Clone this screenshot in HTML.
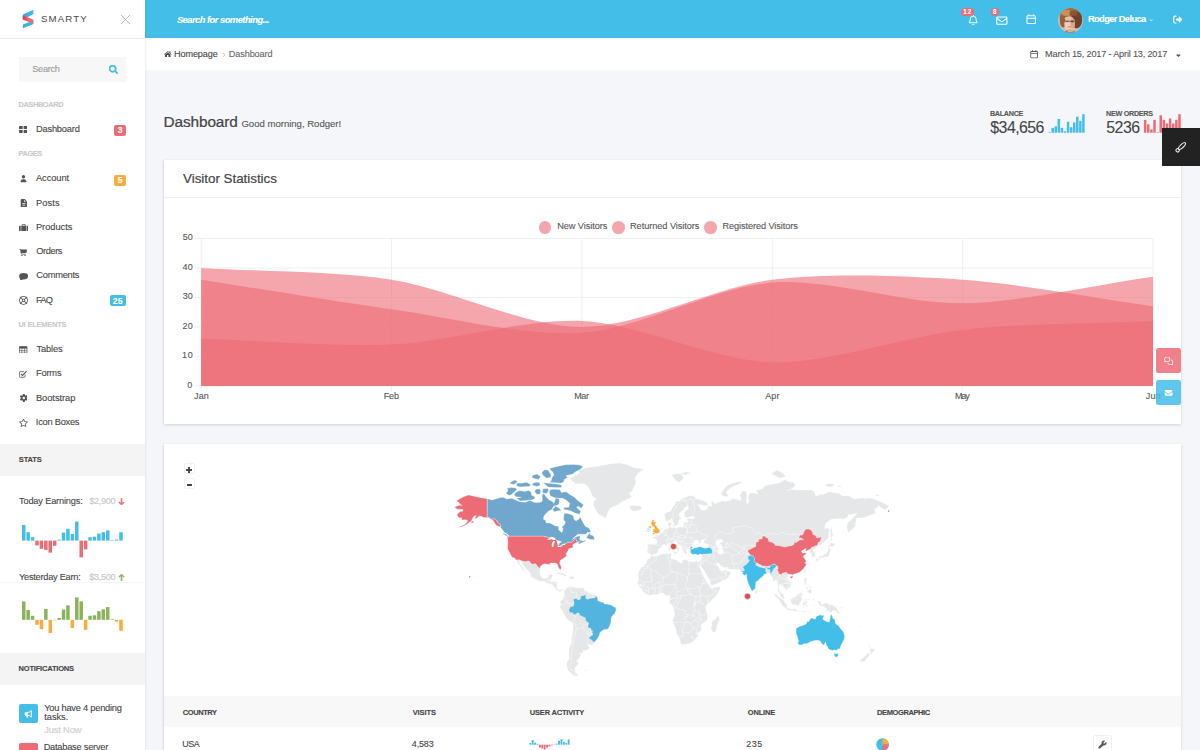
<!DOCTYPE html><html><head><meta charset="utf-8"><title>Smarty Dashboard</title><style>
*{box-sizing:border-box;margin:0;padding:0}
html,body{width:1200px;height:750px;overflow:hidden;background:#f5f6fa;font-family:"Liberation Sans",sans-serif;}
#root{position:relative;width:1200px;height:750px;overflow:hidden}
.t{position:absolute;white-space:nowrap;line-height:1;-webkit-text-stroke:0.1px currentColor}
.ic{position:absolute;display:block}
.abs{position:absolute}
</style></head><body><div id="root"><div class="abs" style="left:145px;top:0px;width:1055.00px;height:38.00px;background:#43bee9;"></div><div class="t" style="left:176.89px;top:14.84px;font-size:9.4px;color:#fff;letter-spacing:-0.534px;font-weight:bold;font-style:italic;">Search for something...</div><svg class="ic" style="left:967.70px;top:15.00px;width:10.40px;height:10.20px;fill:#fff;" viewBox="0 0 448 512" preserveAspectRatio="xMidYMid meet"><path d="M224 0c-13.3 0-24 10.7-24 24v9.7C118.6 45.3 56 115.4 56 200v14.5c0 37.7-10 74.7-29 107.3L5.1 359.2C1.8 365 0 371.5 0 378.2 0 399.1 16.9 416 37.8 416h372.4c20.9 0 37.8-16.9 37.8-37.8 0-6.7-1.8-13.3-5.1-19L421 321.7c-19-32.6-29-69.6-29-107.3v-14.5c0-84.6-62.6-154.7-144-166.3v-9.7c0-13.3-10.7-24-24-24zm168.4 368H55.5l12.9-22.1C91.7 306 104 260.6 104 214.5V200c0-66.3 53.7-120 120-120s120 53.7 120 120v14.5c0 46.2 12.3 91.5 35.5 131.4zm-236.3 96c9.9 28 36.6 48 67.9 48s58-20 67.9-48z"/></svg><div class="abs" style="left:961px;top:8.1px;width:12.70px;height:7.60px;background:#ed6b75;border-radius:3.7px"></div><div class="t" style="left:963.20px;top:9.18px;font-size:6.4px;color:#fff;letter-spacing:0.930px;font-weight:bold;">12</div><svg class="ic" style="left:996.30px;top:14.50px;width:11.70px;height:11.20px;fill:#fff;" viewBox="0 0 512 512" preserveAspectRatio="xMidYMid meet"><path d="M61.4 64C27.5 64 0 91.5 0 125.4c0 .9 0 1.7.1 2.6H0v256c0 35.3 28.7 64 64 64h384c35.3 0 64-28.7 64-64V128h-.1c0-.9.1-1.7.1-2.6 0-33.9-27.5-61.4-61.4-61.4zM464 192.3V384c0 8.8-7.2 16-16 16H64c-8.8 0-16-7.2-16-16V192.3l154.8 117.4c31.4 23.9 74.9 23.9 106.4 0zM48 125.4c0-7.4 6-13.4 13.4-13.4h389.2c7.4 0 13.4 6 13.4 13.4 0 4.2-2 8.2-5.3 10.7L280.2 271.5c-14.3 10.8-34.1 10.8-48.4 0L53.3 136.1c-3.3-2.5-5.3-6.5-5.3-10.7"/></svg><div class="abs" style="left:990.8px;top:8.1px;width:8.20px;height:7.60px;background:#ed6b75;border-radius:3.8px"></div><div class="t" style="left:993.00px;top:9.18px;font-size:6.4px;color:#fff;letter-spacing:0.000px;font-weight:bold;">8</div><svg class="ic" style="left:1025.60px;top:14.20px;width:10.40px;height:10.80px;fill:#fff;" viewBox="0 0 448 512" preserveAspectRatio="xMidYMid meet"><path d="M120 0c13.3 0 24 10.7 24 24v40h160V24c0-13.3 10.7-24 24-24s24 10.7 24 24v40h32c35.3 0 64 28.7 64 64v288c0 35.3-28.7 64-64 64H64c-35.3 0-64-28.7-64-64V128c0-35.3 28.7-64 64-64h32V24c0-13.3 10.7-24 24-24m0 112H64c-8.8 0-16 7.2-16 16v48h352v-48c0-8.8-7.2-16-16-16zM48 224v192c0 8.8 7.2 16 16 16h320c8.8 0 16-7.2 16-16V224z"/></svg><svg class="abs" style="left:1057.8px;top:7.7px" width="25" height="25" viewBox="0 0 25 25"><defs><clipPath id="av"><circle cx="12.5" cy="12.5" r="12.4"/></clipPath><filter id="avb" x="-20%" y="-20%" width="140%" height="140%"><feGaussianBlur stdDeviation="0.55"/></filter></defs><g clip-path="url(#av)"><g filter="url(#avb)"><rect x="-3" y="-3" width="31" height="31" fill="#cdbfb8"/><ellipse cx="12.8" cy="9.3" rx="11.2" ry="9.6" fill="#a8693a"/><ellipse cx="18.6" cy="12" rx="5.6" ry="8.5" fill="#70432a"/><ellipse cx="5.2" cy="13" rx="3.4" ry="6.5" fill="#9a5f36"/><ellipse cx="8.5" cy="4.8" rx="5.5" ry="3" fill="#c99158"/><ellipse cx="15.5" cy="5.2" rx="4" ry="2.6" fill="#8a5430"/><ellipse cx="11.6" cy="16" rx="5.3" ry="7.6" fill="#efcdb8"/><ellipse cx="10.8" cy="10.6" rx="4" ry="2.2" fill="#e6bfa6"/><ellipse cx="14.8" cy="15.5" rx="2.2" ry="5" fill="#d6a68e"/><path d="M6.4 13.1 L16.8 13.3" stroke="#4a3630" stroke-width="0.85" fill="none" opacity=".8"/><ellipse cx="8.9" cy="13.4" rx="1.9" ry="0.9" fill="#6a4a40" opacity=".55"/><ellipse cx="14.2" cy="13.5" rx="1.9" ry="0.9" fill="#4a342e" opacity=".6"/><ellipse cx="11.5" cy="18.9" rx="2" ry="0.7" fill="#c48f7d"/><ellipse cx="12" cy="25.3" rx="6.2" ry="3.6" fill="#b9805c"/><ellipse cx="12.5" cy="22.6" rx="3" ry="1.6" fill="#dcae92"/></g></g></svg><div class="t" style="left:1087.89px;top:15.03px;font-size:9.3px;color:#fff;letter-spacing:-0.607px;font-weight:bold;">Rodger Deluca</div><svg class="ic" style="left:1149.00px;top:18.30px;width:4.40px;height:4.00px;fill:#fff;" viewBox="0 0 384 512" preserveAspectRatio="xMidYMid meet"><path d="M169.4 374.6c12.5 12.5 32.8 12.5 45.3 0l160-160c12.5-12.5 12.5-32.8 0-45.3s-32.8-12.5-45.3 0L192 306.7 54.6 169.4c-12.5-12.5-32.8-12.5-45.3 0s-12.5 32.8 0 45.3l160 160z"/></svg><svg class="ic" style="left:1172.50px;top:15.20px;width:9.50px;height:9.10px;fill:#fff;" viewBox="0 0 512 512" preserveAspectRatio="xMidYMid meet"><path d="M505 273c9.4-9.4 9.4-24.6 0-33.9L361 95c-6.9-6.9-17.2-8.9-26.2-5.2S320 102.3 320 112v80H208c-26.5 0-48 21.5-48 48v32c0 26.5 21.5 48 48 48h112v80c0 9.7 5.8 18.5 14.8 22.2s19.3 1.7 26.2-5.2zM160 96c17.7 0 32-14.3 32-32s-14.3-32-32-32H96C43 32 0 75 0 128v256c0 53 43 96 96 96h64c17.7 0 32-14.3 32-32s-14.3-32-32-32H96c-17.7 0-32-14.3-32-32V128c0-17.7 14.3-32 32-32z"/></svg><div class="abs" style="left:145px;top:38px;width:1055.00px;height:32.00px;background:#fff;"></div><svg class="ic" style="left:164.2px;top:51.3px;width:7.5px;height:6.2px" viewBox="0 0 7.5 6.2" fill="#444" stroke="none"><path d="M3.75 0 L7.5 3.15 L7.1 3.65 L3.75 0.85 L0.4 3.65 L0 3.15 Z"/><path d="M1 3.7 L3.75 1.45 L6.5 3.7 V6.2 H4.5 V4.1 H3 V6.2 H1 Z"/><rect x="5.5" y="0.3" width="0.9" height="1.8"/></svg><div class="t" style="left:173.95px;top:49.50px;font-size:9.1px;color:#444;letter-spacing:-0.082px;">Homepage</div><svg class="ic" style="left:222.30px;top:51.80px;width:3.70px;height:5.80px;fill:#c4c4c4;" viewBox="0 0 256 512" preserveAspectRatio="xMidYMid meet"><path d="M247.1 233.4c12.5 12.5 12.5 32.8 0 45.3l-160 160c-12.5 12.5-32.8 12.5-45.3 0s-12.5-32.8 0-45.3L179.2 256 41.9 118.6c-12.5-12.5-12.5-32.8 0-45.3s32.8-12.5 45.3 0l160 160z"/></svg><div class="t" style="left:228.75px;top:49.50px;font-size:9.1px;color:#666;letter-spacing:-0.086px;">Dashboard</div><svg class="ic" style="left:1030.20px;top:50.00px;width:8.30px;height:8.75px;fill:#555;" viewBox="0 0 448 512" preserveAspectRatio="xMidYMid meet"><path d="M120 0c13.3 0 24 10.7 24 24v40h160V24c0-13.3 10.7-24 24-24s24 10.7 24 24v40h32c35.3 0 64 28.7 64 64v288c0 35.3-28.7 64-64 64H64c-35.3 0-64-28.7-64-64V128c0-35.3 28.7-64 64-64h32V24c0-13.3 10.7-24 24-24m0 112H64c-8.8 0-16 7.2-16 16v48h352v-48c0-8.8-7.2-16-16-16zM48 224v192c0 8.8 7.2 16 16 16h320c8.8 0 16-7.2 16-16V224z"/></svg><div class="t" style="left:1045.05px;top:49.71px;font-size:9.2px;color:#555;letter-spacing:-0.198px;">March 15, 2017 - April 13, 2017</div><svg class="ic" style="left:1176.40px;top:51.60px;width:4.80px;height:6.60px;fill:#555;" viewBox="0 0 320 512" preserveAspectRatio="xMidYMid meet"><path d="M140.3 376.8c12.6 10.2 31.1 9.5 42.8-2.2l128-128c9.2-9.2 11.9-22.9 6.9-34.9S301.4 192 288.5 192h-256c-12.9 0-24.6 7.8-29.6 19.8s-2.2 25.7 7 34.8l128 128z"/></svg><div class="t" style="left:163.54px;top:114.26px;font-size:15.4px;color:#444;letter-spacing:-0.124px;-webkit-text-stroke:0.22px currentColor">Dashboard</div><div class="t" style="left:241.42px;top:119.17px;font-size:9.6px;color:#555;letter-spacing:-0.023px;">Good morning, Rodger!</div><div class="t" style="left:989.97px;top:110.41px;font-size:7.2px;color:#555;letter-spacing:-0.299px;font-weight:bold;">BALANCE</div><div class="t" style="left:990.34px;top:119.54px;font-size:15.9px;color:#444;letter-spacing:-0.556px;">$34,656</div><div class="t" style="left:1106.02px;top:110.41px;font-size:7.2px;color:#555;letter-spacing:-0.272px;font-weight:bold;">NEW ORDERS</div><div class="t" style="left:1106.26px;top:119.54px;font-size:15.9px;color:#444;letter-spacing:-0.481px;">5236</div><svg class="abs" style="left:0;top:0" width="1200" height="750"><rect x="1048.40" y="132.10" width="2.5" height="0.60" fill="#43bee9"/><rect x="1051.47" y="127.90" width="2.5" height="4.80" fill="#43bee9"/><rect x="1054.54" y="126.30" width="2.5" height="6.40" fill="#43bee9"/><rect x="1057.61" y="118.90" width="2.5" height="13.80" fill="#43bee9"/><rect x="1060.68" y="127.90" width="2.5" height="4.80" fill="#43bee9"/><rect x="1063.75" y="131.20" width="2.5" height="1.50" fill="#43bee9"/><rect x="1066.82" y="121.70" width="2.5" height="11.00" fill="#43bee9"/><rect x="1069.89" y="127.20" width="2.5" height="5.50" fill="#43bee9"/><rect x="1072.96" y="122.40" width="2.5" height="10.30" fill="#43bee9"/><rect x="1076.03" y="116.60" width="2.5" height="16.10" fill="#43bee9"/><rect x="1079.10" y="120.80" width="2.5" height="11.90" fill="#43bee9"/><rect x="1082.17" y="114.20" width="2.5" height="18.50" fill="#43bee9"/><rect x="1143.90" y="119.90" width="2.5" height="12.80" fill="#ed6b75"/><rect x="1147.02" y="124.30" width="2.5" height="8.40" fill="#ed6b75"/><rect x="1150.14" y="129.40" width="2.5" height="3.30" fill="#ed6b75"/><rect x="1153.26" y="119.90" width="2.5" height="12.80" fill="#ed6b75"/><rect x="1156.38" y="132.20" width="2.5" height="0.50" fill="#ed6b75"/><rect x="1159.50" y="115.30" width="2.5" height="17.40" fill="#ed6b75"/><rect x="1162.62" y="119.90" width="2.5" height="12.80" fill="#ed6b75"/><rect x="1165.74" y="123.50" width="2.5" height="9.20" fill="#ed6b75"/><rect x="1168.86" y="118.40" width="2.5" height="14.30" fill="#ed6b75"/><rect x="1171.98" y="123.50" width="2.5" height="9.20" fill="#ed6b75"/><rect x="1175.10" y="119.90" width="2.5" height="12.80" fill="#ed6b75"/><rect x="1178.22" y="114.20" width="2.5" height="18.50" fill="#ed6b75"/></svg><div class="abs" style="left:0px;top:0px;width:145.00px;height:750.00px;background:#fff;box-shadow:1px 0 2px rgba(0,0,0,.07)"></div><div class="abs" style="left:0px;top:38px;width:145.00px;height:1.00px;background:#e9e9e9;"></div><svg class="abs" style="left:21px;top:8px" width="14" height="22" viewBox="0 0 14 22"><defs><linearGradient id="lg1" x1="0" y1="0" x2="1" y2="0"><stop offset="0" stop-color="#c4434f"/><stop offset="0.6" stop-color="#ee6c77"/><stop offset="1" stop-color="#f0707a"/></linearGradient><linearGradient id="lg2" x1="0" y1="0" x2="1" y2="0"><stop offset="0" stop-color="#35aee0"/><stop offset="1" stop-color="#3fbbe8"/></linearGradient></defs><path d="M12.4 1.7 L12.4 6.1 L4.5 10.2 L1.9 9.2 L1.9 7.4 Q2 6.6 2.9 6.1 Z" fill="url(#lg2)"/><path d="M12.4 12.6 L12.4 15.4 Q12.3 16.1 11.5 16.5 L1.9 20.3 L1.9 16.4 Z" fill="url(#lg2)"/><path d="M1.6 7.3 L11.2 11.1 Q12.4 11.6 12.4 12.8 L12.4 15.8 L2.8 12.1 Q1.6 11.6 1.6 10.4 Z" fill="url(#lg1)"/></svg><div class="t" style="left:41.06px;top:13.89px;font-size:9.7px;color:#484848;letter-spacing:1.081px;-webkit-text-stroke:0">SMARTY</div><svg class="abs" style="left:120px;top:14px" width="11" height="11" viewBox="0 0 11 11"><path d="M1 1L10 10M10 1L1 10" stroke="#aaa" stroke-width="0.8" fill="none"/></svg><div class="abs" style="left:19px;top:57px;width:107.00px;height:25.00px;background:#f7f7f7;"></div><div class="t" style="left:32.19px;top:65.11px;font-size:9.2px;color:#999;letter-spacing:-0.269px;">Search</div><svg class="ic" style="left:109.00px;top:65.30px;width:9.00px;height:9.00px;fill:#43bee9;stroke:#43bee9;stroke-width:45" viewBox="0 0 512 512" preserveAspectRatio="xMidYMid meet"><path d="M416 208c0 45.9-14.9 88.3-40 122.7l126.6 126.7c12.5 12.5 12.5 32.8 0 45.3s-32.8 12.5-45.3 0L330.7 376c-34.4 25.1-76.8 40-122.7 40C93.1 416 0 322.9 0 208S93.1 0 208 0s208 93.1 208 208M208 352a144 144 0 1 0 0-288 144 144 0 1 0 0 288"/></svg><div class="t" style="left:18.41px;top:101.44px;font-size:7.4px;color:#c9c9c9;letter-spacing:-0.364px;font-weight:bold;">DASHBOARD</div><div class="t" style="left:18.41px;top:150.34px;font-size:7.4px;color:#c9c9c9;letter-spacing:-0.371px;font-weight:bold;">PAGES</div><div class="t" style="left:18.46px;top:321.24px;font-size:7.4px;color:#c9c9c9;letter-spacing:-0.172px;font-weight:bold;">UI ELEMENTS</div><svg class="ic" style="left:19px;top:126.3px;width:8.3px;height:7px" viewBox="0 0 8.3 7" fill="#555" stroke="none"><rect x="0" y="0" width="3.7" height="3.1" rx="0.4"/><rect x="0" y="3.9" width="3.7" height="3.1" rx="0.4"/><rect x="4.6" y="0" width="3.7" height="3.1" rx="0.4"/><rect x="4.6" y="3.9" width="3.7" height="3.1" rx="0.4"/></svg><div class="t" style="left:35.94px;top:125.13px;font-size:9.3px;color:#444;letter-spacing:-0.192px;">Dashboard</div><svg class="ic" style="left:20.00px;top:175.40px;width:7.00px;height:7.30px;fill:#555;" viewBox="0 0 448 512" preserveAspectRatio="xMidYMid meet"><path d="M224 248a120 120 0 1 0 0-240 120 120 0 1 0 0 240m-29.7 56C95.8 304 16 383.8 16 482.3c0 16.4 13.3 29.7 29.7 29.7h356.6c16.4 0 29.7-13.3 29.7-29.7 0-98.5-79.8-178.3-178.3-178.3z"/></svg><div class="t" style="left:35.98px;top:174.33px;font-size:9.3px;color:#444;letter-spacing:-0.086px;">Account</div><svg class="ic" style="left:19.50px;top:199.20px;width:7.70px;height:8.30px;fill:#555;" viewBox="0 0 384 512" preserveAspectRatio="xMidYMid meet"><path d="M0 64C0 28.7 28.7 0 64 0h149.5c17 0 33.3 6.7 45.3 18.7l106.5 106.6c12 12 18.7 28.3 18.7 45.3V448c0 35.3-28.7 64-64 64H64c-35.3 0-64-28.7-64-64zm208-5.5V152c0 13.3 10.7 24 24 24h93.5zM120 256c-13.3 0-24 10.7-24 24s10.7 24 24 24h144c13.3 0 24-10.7 24-24s-10.7-24-24-24zm0 96c-13.3 0-24 10.7-24 24s10.7 24 24 24h144c13.3 0 24-10.7 24-24s-10.7-24-24-24z"/></svg><div class="t" style="left:35.94px;top:198.83px;font-size:9.3px;color:#444;letter-spacing:0.085px;">Posts</div><svg class="ic" style="left:18.7px;top:223.5px;width:9.3px;height:7.5px" viewBox="0 0 9.3 7.5" fill="#555" stroke="none"><rect x="0" y="1.7" width="9.3" height="5.8" rx="0.8"/><path d="M3.1 1.8 V0.6 H6.2 V1.8" fill="none" stroke="#555" stroke-width="0.8"/><rect x="1.7" y="1.6" width="0.55" height="6" fill="#fff"/><rect x="7.05" y="1.6" width="0.55" height="6" fill="#fff"/></svg><div class="t" style="left:35.94px;top:222.63px;font-size:9.3px;color:#444;letter-spacing:-0.043px;">Products</div><svg class="ic" style="left:19.00px;top:248.50px;width:9.00px;height:7.20px;fill:#555;" viewBox="0 0 640 512" preserveAspectRatio="xMidYMid meet"><path d="M24-16C10.7-16 0-5.3 0 8s10.7 24 24 24h45.3c3.9 0 7.2 2.8 7.9 6.6l52.1 286.3c6.2 34.2 36 59.1 70.8 59.1H456c13.3 0 24-10.7 24-24s-10.7-24-24-24H200.1c-11.6 0-21.5-8.3-23.6-19.7l-5.1-28.3H475c30.8 0 57.2-21.9 62.9-52.2l31-165.9c3.7-19.7-11.4-37.9-31.5-37.9H124.7l-.4-2c-4.8-26.6-28-46-55.1-46zm184 528a48 48 0 1 0 0-96 48 48 0 1 0 0 96m224 0a48 48 0 1 0 0-96 48 48 0 1 0 0 96"/></svg><div class="t" style="left:36.26px;top:247.13px;font-size:9.3px;color:#444;letter-spacing:-0.430px;">Orders</div><svg class="ic" style="left:18.8px;top:272.5px;width:9.2px;height:7.8px" viewBox="0 0 9.2 7.8" fill="#555" stroke="none"><ellipse cx="4.6" cy="3.2" rx="4.5" ry="3.2"/><path d="M1.3 5.2 Q1.4 6.9 0.3 7.7 Q2.6 7.6 3.9 6 Z"/></svg><div class="t" style="left:36.23px;top:271.33px;font-size:9.3px;color:#444;letter-spacing:-0.238px;">Comments</div><svg class="ic" style="left:18.80px;top:296.20px;width:9.00px;height:8.80px;fill:#555;" viewBox="0 0 512 512" preserveAspectRatio="xMidYMid meet"><path d="M385.1 419.1C349.7 447.2 304.8 464 256 464s-93.7-16.8-129.1-44.9l80.4-80.4c14.3 8.4 31 13.3 48.8 13.3s34.5-4.8 48.8-13.3l80.4 80.4zm68.1.2C489.9 374.9 512 318.1 512 256s-22.1-118.9-58.8-163.3L465 81c9.4-9.4 9.4-24.6 0-33.9s-24.6-9.4-33.9 0l-11.8 11.7C374.9 22.1 318.1 0 256 0S137.1 22.1 92.7 58.8L81 47c-9.4-9.4-24.6-9.4-33.9 0s-9.4 24.6-.1 34l11.8 11.7C22.1 137.1 0 193.9 0 256s22.1 118.9 58.8 163.3L47 431c-9.4 9.4-9.4 24.6 0 33.9s24.6 9.4 33.9 0l11.8-11.8C137.1 489.9 193.9 512 256 512s118.9-22.1 163.3-58.8L431 465c9.4 9.4 24.6 9.4 33.9 0s9.4-24.6 0-33.9l-11.8-11.8zm-34.1-34.1-80.4-80.4c8.4-14.3 13.3-31 13.3-48.8s-4.8-34.5-13.3-48.8l80.4-80.4C447.2 162.3 464 207.2 464 256s-16.8 93.7-44.9 129.1zm-34-292.3-80.4 80.4c-14.3-8.4-31-13.3-48.8-13.3s-34.5 4.8-48.8 13.3l-80.2-80.4C162.3 64.8 207.2 48 256 48s93.7 16.8 129.1 44.9M173.3 304.8l-80.4 80.3C64.8 349.7 48 304.8 48 256s16.8-93.7 44.9-129.1l80.4 80.4c-8.4 14.3-13.3 31-13.3 48.8s4.8 34.5 13.3 48.8zM208 256a48 48 0 1 1 96 0 48 48 0 1 1-96 0"/></svg><div class="t" style="left:35.94px;top:295.83px;font-size:9.3px;color:#444;letter-spacing:-0.800px;">FAQ</div><svg class="ic" style="left:19.2px;top:345.5px;width:8.4px;height:7.5px" viewBox="0 0 8.4 7.5" fill="#555" stroke="none"><rect x="0.4" y="0.4" width="7.6" height="6.7" rx="0.7" fill="none" stroke="#555" stroke-width="0.8"/><path d="M0.4 2.5 H8 M0.4 4.7 H8 M2.9 2.5 V7 M5.5 2.5 V7" fill="none" stroke="#555" stroke-width="0.65"/><rect x="0.4" y="0.4" width="7.6" height="1.6" rx="0.5"/></svg><div class="t" style="left:36.50px;top:344.93px;font-size:9.3px;color:#444;letter-spacing:-0.169px;">Tables</div><svg class="ic" style="left:19.2px;top:370px;width:8.2px;height:7.8px" viewBox="0 0 8.2 7.8" fill="#555" stroke="none"><path d="M6.1 4.5 V6.4 Q6.1 7.3 5.2 7.3 H1.3 Q0.4 7.3 0.4 6.4 V2.5 Q0.4 1.6 1.3 1.6 H4.9" fill="none" stroke="#555" stroke-width="0.8"/><path d="M1.9 3.8 L3.5 5.4 L7.6 1.1" fill="none" stroke="#555" stroke-width="1.15"/></svg><div class="t" style="left:35.94px;top:369.43px;font-size:9.3px;color:#444;letter-spacing:-0.187px;">Forms</div><svg class="ic" style="left:19.50px;top:394.30px;width:7.70px;height:7.90px;fill:#555;" viewBox="0 0 512 512" preserveAspectRatio="xMidYMid meet"><path d="M195.1 9.5c3-14.8 16.1-25.5 31.3-25.5h59.8c15.2 0 28.3 10.7 31.3 25.5l14.5 70c14.1 6 27.3 13.7 39.3 22.8l67.8-22.5c14.4-4.8 30.2 1.2 37.8 14.4l29.9 51.8c7.6 13.2 4.9 29.8-6.5 39.9L447 233.3c.9 7.4 1.3 15 1.3 22.7s-.5 15.3-1.3 22.7l53.4 47.5c11.4 10.1 14 26.8 6.5 39.9L477 417.9c-7.6 13.1-23.4 19.2-37.8 14.4l-67.8-22.5c-12.1 9.1-25.3 16.7-39.3 22.8l-14.4 69.9c-3.1 14.9-16.2 25.5-31.3 25.5h-59.8c-15.2 0-28.3-10.7-31.3-25.5l-14.4-69.9c-14.1-6-27.2-13.7-39.3-22.8l-68.1 22.5c-14.4 4.8-30.2-1.2-37.8-14.4L5.8 366.1c-7.6-13.2-4.9-29.8 6.5-39.9l53.4-47.5c-.9-7.4-1.3-15-1.3-22.7s.5-15.3 1.3-22.7l-53.4-47.5C.9 175.7-1.7 159 5.8 145.9l29.9-51.8c7.6-13.2 23.4-19.2 37.8-14.4l67.8 22.5c12.1-9.1 25.3-16.7 39.3-22.8zM256.3 336a80 80 0 1 0-.6-160 80 80 0 1 0 .6 160"/></svg><div class="t" style="left:35.94px;top:393.63px;font-size:9.3px;color:#444;letter-spacing:-0.045px;">Bootstrap</div><svg class="ic" style="left:18.80px;top:418.50px;width:9.00px;height:8.40px;fill:#555;" viewBox="0 0 576 512" preserveAspectRatio="xMidYMid meet"><path d="M288.1-32c9 0 17.3 5.1 21.4 13.1L383 125.3l159.9 25.4c8.9 1.4 16.3 7.7 19.1 16.3s.5 18-5.8 24.4L441.7 305.9 467 465.8c1.4 8.9-2.3 17.9-9.6 23.2s-17 6.1-25 2l-144.3-73.4L143.8 491c-8 4.1-17.7 3.3-25-2s-11-14.2-9.6-23.2l25.2-159.9L20 191.4c-6.4-6.4-8.6-15.8-5.8-24.4s10.1-14.9 19.1-16.3l159.9-25.4 73.6-144.2c4.1-8 12.4-13.1 21.4-13.1zm0 76.8L230.3 158c-3.5 6.8-10 11.6-17.6 12.8l-125.5 20 89.8 89.9c5.4 5.4 7.9 13.1 6.7 20.7l-19.8 125.5 113.3-57.6c6.8-3.5 14.9-3.5 21.8 0l113.3 57.6-19.8-125.5c-1.2-7.6 1.3-15.3 6.7-20.7l89.8-89.9-125.5-20c-7.6-1.2-14.1-6-17.6-12.8z"/></svg><div class="t" style="left:35.84px;top:418.33px;font-size:9.3px;color:#444;letter-spacing:-0.257px;">Icon Boxes</div><div class="abs" style="left:114px;top:125px;width:12.00px;height:11.00px;background:#ed6b75;border-radius:2px"></div><div class="t" style="left:117.71px;top:126.22px;font-size:8.6px;color:#fff;letter-spacing:0.000px;font-weight:bold;">3</div><div class="abs" style="left:114px;top:174.6px;width:12.00px;height:11.10px;background:#f8ac3b;border-radius:2px"></div><div class="t" style="left:117.64px;top:175.92px;font-size:8.6px;color:#fff;letter-spacing:0.000px;font-weight:bold;">5</div><div class="abs" style="left:109.7px;top:295.3px;width:16.10px;height:11.00px;background:#43bee9;border-radius:2px"></div><div class="t" style="left:112.81px;top:296.52px;font-size:8.6px;color:#fff;letter-spacing:0.261px;font-weight:bold;">25</div><div class="abs" style="left:0px;top:443.6px;width:145.00px;height:32.00px;background:#f4f4f4;"></div><div class="t" style="left:18.79px;top:456.05px;font-size:7.5px;color:#444;letter-spacing:-0.141px;font-weight:bold;">STATS</div><div class="t" style="left:19.00px;top:496.81px;font-size:9.2px;color:#444;letter-spacing:-0.152px;">Today Earnings:</div><div class="t" style="left:89.31px;top:496.81px;font-size:9.2px;color:#c6c6c6;letter-spacing:-0.338px;">$2,900</div><svg class="ic" style="left:118.30px;top:498.00px;width:7.00px;height:7.00px;fill:#ed6b75;stroke:#ed6b75;stroke-width:50" viewBox="0 0 384 512" preserveAspectRatio="xMidYMid meet"><path d="M169.4 502.6c12.5 12.5 32.8 12.5 45.3 0l160-160c12.5-12.5 12.5-32.8 0-45.3s-32.8-12.5-45.3 0L224 402.7V32c0-17.7-14.3-32-32-32s-32 14.3-32 32v370.7L54.6 297.3c-12.5-12.5-32.8-12.5-45.3 0s-12.5 32.8 0 45.3l160 160z"/></svg><div class="t" style="left:19.00px;top:572.61px;font-size:9.2px;color:#444;letter-spacing:-0.235px;">Yesterday Earn:</div><div class="t" style="left:89.31px;top:572.61px;font-size:9.2px;color:#c6c6c6;letter-spacing:-0.338px;">$3,500</div><svg class="ic" style="left:118.30px;top:574.00px;width:7.00px;height:7.00px;fill:#8bb35c;stroke:#8bb35c;stroke-width:50" viewBox="0 0 384 512" preserveAspectRatio="xMidYMid meet"><path d="M214.6 17.4c-12.5-12.5-32.8-12.5-45.3 0l-160 160c-12.5 12.5-12.5 32.8 0 45.3s32.8 12.5 45.3 0L160 117.3V488c0 17.7 14.3 32 32 32s32-14.3 32-32V117.3l105.4 105.4c12.5 12.5 32.8 12.5 45.3 0s12.5-32.8 0-45.3l-160-160z"/></svg><svg class="abs" style="left:0;top:0" width="145" height="750"><rect x="22.00" y="525.00" width="3.5" height="15.60" fill="#43bee9"/><rect x="26.42" y="532.20" width="3.5" height="8.40" fill="#43bee9"/><rect x="30.84" y="537.20" width="3.5" height="3.40" fill="#43bee9"/><rect x="35.26" y="540.60" width="3.5" height="4.80" fill="#ed6b75"/><rect x="39.68" y="540.60" width="3.5" height="8.20" fill="#ed6b75"/><rect x="44.10" y="540.60" width="3.5" height="9.30" fill="#ed6b75"/><rect x="48.52" y="540.60" width="3.5" height="12.00" fill="#ed6b75"/><rect x="52.94" y="540.60" width="3.5" height="5.20" fill="#ed6b75"/><rect x="57.36" y="539.60" width="3.5" height="1.00" fill="#43bee9"/><rect x="61.78" y="532.60" width="3.5" height="8.00" fill="#43bee9"/><rect x="66.20" y="528.80" width="3.5" height="11.80" fill="#43bee9"/><rect x="70.62" y="534.00" width="3.5" height="6.60" fill="#43bee9"/><rect x="75.04" y="521.60" width="3.5" height="19.00" fill="#43bee9"/><rect x="79.46" y="540.60" width="3.5" height="16.80" fill="#ed6b75"/><rect x="83.88" y="540.60" width="3.5" height="8.80" fill="#ed6b75"/><rect x="88.30" y="537.20" width="3.5" height="3.40" fill="#43bee9"/><rect x="92.72" y="536.70" width="3.5" height="3.90" fill="#43bee9"/><rect x="97.14" y="533.60" width="3.5" height="7.00" fill="#43bee9"/><rect x="101.56" y="532.20" width="3.5" height="8.40" fill="#43bee9"/><rect x="105.98" y="530.40" width="3.5" height="10.20" fill="#43bee9"/><rect x="110.40" y="540.10" width="3.5" height="0.50" fill="#43bee9"/><rect x="114.82" y="539.50" width="3.5" height="1.10" fill="#43bee9"/><rect x="119.24" y="532.20" width="3.5" height="8.40" fill="#43bee9"/><rect x="22.00" y="601.40" width="3.5" height="18.40" fill="#8bb35c"/><rect x="26.42" y="610.00" width="3.5" height="9.80" fill="#8bb35c"/><rect x="30.84" y="615.80" width="3.5" height="4.00" fill="#8bb35c"/><rect x="35.26" y="619.80" width="3.5" height="5.00" fill="#f8ac3b"/><rect x="39.68" y="619.80" width="3.5" height="9.30" fill="#f8ac3b"/><rect x="44.10" y="608.90" width="3.5" height="10.90" fill="#8bb35c"/><rect x="48.52" y="619.80" width="3.5" height="13.20" fill="#f8ac3b"/><rect x="52.94" y="619.80" width="3.5" height="0.50" fill="#f8ac3b"/><rect x="57.36" y="618.00" width="3.5" height="1.80" fill="#8bb35c"/><rect x="61.78" y="609.60" width="3.5" height="10.20" fill="#8bb35c"/><rect x="66.20" y="605.30" width="3.5" height="14.50" fill="#8bb35c"/><rect x="70.62" y="619.80" width="3.5" height="8.20" fill="#f8ac3b"/><rect x="75.04" y="597.40" width="3.5" height="22.40" fill="#8bb35c"/><rect x="79.46" y="601.40" width="3.5" height="18.40" fill="#8bb35c"/><rect x="83.88" y="619.80" width="3.5" height="10.00" fill="#f8ac3b"/><rect x="88.30" y="615.80" width="3.5" height="4.00" fill="#8bb35c"/><rect x="92.72" y="615.30" width="3.5" height="4.50" fill="#8bb35c"/><rect x="97.14" y="611.20" width="3.5" height="8.60" fill="#8bb35c"/><rect x="101.56" y="609.40" width="3.5" height="10.40" fill="#8bb35c"/><rect x="105.98" y="607.10" width="3.5" height="12.70" fill="#8bb35c"/><rect x="110.40" y="619.20" width="3.5" height="0.60" fill="#8bb35c"/><rect x="114.82" y="619.80" width="3.5" height="1.80" fill="#f8ac3b"/><rect x="119.24" y="619.80" width="3.5" height="10.90" fill="#f8ac3b"/></svg><div class="abs" style="left:0px;top:582px;width:145.00px;height:1.00px;background:#f7f7f7;"></div><div class="abs" style="left:0px;top:652.9px;width:145.00px;height:32.10px;background:#f4f4f4;"></div><div class="t" style="left:18.50px;top:665.15px;font-size:7.5px;color:#444;letter-spacing:-0.182px;font-weight:bold;">NOTIFICATIONS</div><div class="abs" style="left:19px;top:704.2px;width:18.80px;height:18.60px;background:#43bee9;border-radius:2px"></div><svg class="ic" style="left:24.20px;top:710.20px;width:8.80px;height:7.80px;fill:#fff;" viewBox="0 0 512 512" preserveAspectRatio="xMidYMid meet"><path d="M461.2 18.9C472.7 24 480 35.4 480 48v416c0 12.6-7.3 24-18.8 29.1s-24.8 3.2-34.3-5.1l-46.6-40.7c-43.6-38.1-98.7-60.3-156.4-63V480c0 17.7-14.3 32-32 32h-32c-17.7 0-32-14.3-32-32v-96C57.3 384 0 326.7 0 256s57.3-128 128-128h84.5c61.8-.2 121.4-22.7 167.9-63.3L427 24c9.4-8.3 22.9-10.2 34.3-5.1zM224 320v.2c70.3 2.7 137.8 28.5 192 73.4V118.3c-54.2 44.9-121.7 70.7-192 73.4z"/></svg><div class="t" style="left:44.20px;top:703.93px;font-size:9.3px;color:#444;letter-spacing:-0.240px;">You have 4 pending</div><div class="t" style="left:44.26px;top:712.73px;font-size:9.3px;color:#444;letter-spacing:-0.061px;">tasks.</div><div class="t" style="left:44.26px;top:725.63px;font-size:9.3px;color:#cdcdcd;letter-spacing:-0.161px;">Just Now</div><div class="abs" style="left:19px;top:743.4px;width:18.80px;height:18.60px;background:#ed6b75;border-radius:2px"></div><div class="t" style="left:43.64px;top:742.73px;font-size:9.3px;color:#444;letter-spacing:-0.252px;">Database server</div><div class="abs" style="left:163.8px;top:159.7px;width:1017.20px;height:264.60px;background:#fff;box-shadow:0 1px 3px rgba(0,0,0,.14),-1px 0 1px rgba(0,0,0,.03)"></div><div class="abs" style="left:163.8px;top:197px;width:1017.20px;height:1.00px;background:#eeeeee;"></div><div class="t" style="left:183.05px;top:171.96px;font-size:13.4px;color:#444;letter-spacing:-0.023px;-webkit-text-stroke:0.2px currentColor">Visitor Statistics</div><div class="abs" style="left:538.9000000000001px;top:221.2px;width:12.6px;height:12.6px;border-radius:6.3px;background:rgba(237,107,117,0.6)"></div><div class="t" style="left:557.25px;top:222.41px;font-size:9.2px;color:#555;letter-spacing:-0.079px;">New Visitors</div><div class="abs" style="left:612.1px;top:221.2px;width:12.6px;height:12.6px;border-radius:6.3px;background:rgba(237,107,117,0.6)"></div><div class="t" style="left:630.05px;top:222.41px;font-size:9.2px;color:#555;letter-spacing:-0.057px;">Returned Visitors</div><div class="abs" style="left:704.0px;top:221.2px;width:12.6px;height:12.6px;border-radius:6.3px;background:rgba(237,107,117,0.6)"></div><div class="t" style="left:722.45px;top:222.41px;font-size:9.2px;color:#555;letter-spacing:-0.086px;">Registered Visitors</div><svg class="abs" style="left:0;top:0" width="1200" height="750"><rect x="194.6" y="385.40" width="958.4" height="1" fill="#efefef"/><rect x="194.6" y="355.90" width="958.4" height="1" fill="#efefef"/><rect x="194.6" y="326.40" width="958.4" height="1" fill="#efefef"/><rect x="194.6" y="296.90" width="958.4" height="1" fill="#efefef"/><rect x="194.6" y="267.40" width="958.4" height="1" fill="#efefef"/><rect x="194.6" y="237.90" width="958.4" height="1" fill="#efefef"/><rect x="200.70" y="238" width="1" height="153.5" fill="#efefef"/><rect x="391.06" y="238" width="1" height="153.5" fill="#efefef"/><rect x="581.42" y="238" width="1" height="153.5" fill="#efefef"/><rect x="771.78" y="238" width="1" height="153.5" fill="#efefef"/><rect x="962.14" y="238" width="1" height="153.5" fill="#efefef"/><rect x="1152.50" y="238" width="1" height="153.5" fill="#efefef"/><path d="M201.2,385.9 L201.2,267.9 C258.3,271.4 335.2,271.0 391.6,279.7 C449.5,288.7 524.8,326.9 581.9,326.9 C639.0,326.9 714.3,286.9 772.3,279.7 C828.5,272.7 905.8,275.7 962.6,279.7 C1020.0,283.7 1095.9,298.3 1153.0,306.2 L1153.0,385.9 Z" fill="rgba(237,107,117,0.6)"/><path d="M201.2,385.9 L201.2,279.7 C258.3,288.6 334.3,301.2 391.6,309.2 C448.5,317.1 525.6,336.7 581.9,332.8 C639.8,328.8 714.4,287.1 772.3,282.6 C828.6,278.3 905.6,304.2 962.6,303.3 C1019.9,302.4 1095.9,284.7 1153.0,276.8 L1153.0,385.9 Z" fill="rgba(237,107,117,0.6)"/><path d="M201.2,385.9 L201.2,338.7 C258.3,340.5 334.7,347.2 391.6,344.6 C448.9,341.9 525.3,318.4 581.9,321.0 C639.5,323.7 714.9,361.0 772.3,362.3 C829.1,363.6 905.2,336.1 962.6,329.9 C1019.4,323.7 1095.9,323.7 1153.0,321.0 L1153.0,385.9 Z" fill="rgba(237,107,117,0.6)"/></svg><div class="t" style="left:187.25px;top:380.58px;font-size:9px;color:#555;letter-spacing:0.000px;">0</div><div class="t" style="left:181.92px;top:351.08px;font-size:9px;color:#555;letter-spacing:0.818px;">10</div><div class="t" style="left:182.55px;top:321.58px;font-size:9px;color:#555;letter-spacing:0.184px;">20</div><div class="t" style="left:182.66px;top:292.08px;font-size:9px;color:#555;letter-spacing:0.076px;">30</div><div class="t" style="left:182.60px;top:262.58px;font-size:9px;color:#555;letter-spacing:0.132px;">40</div><div class="t" style="left:182.64px;top:233.08px;font-size:9px;color:#555;letter-spacing:0.094px;">50</div><div class="t" style="left:194.06px;top:391.78px;font-size:9px;color:#555;letter-spacing:0.102px;">Jan</div><div class="t" style="left:383.82px;top:391.78px;font-size:9px;color:#555;letter-spacing:-0.200px;">Feb</div><div class="t" style="left:574.18px;top:391.78px;font-size:9px;color:#555;letter-spacing:-0.308px;">Mar</div><div class="t" style="left:765.26px;top:391.78px;font-size:9px;color:#555;letter-spacing:0.079px;">Apr</div><div class="t" style="left:954.90px;top:391.78px;font-size:9px;color:#555;letter-spacing:-1.123px;">May</div><div class="t" style="left:1145.87px;top:391.78px;font-size:9px;color:#555;letter-spacing:0.102px;">Jun</div><div class="abs" style="left:163.8px;top:444px;width:1017.20px;height:326.00px;background:#fff;box-shadow:0 1px 3px rgba(0,0,0,.14),-1px 0 1px rgba(0,0,0,.03)"></div><div class="abs" style="left:183.6px;top:462.6px;width:11.2px;height:11.8px;background:#fff;border-radius:2px;border:1px solid #f0f0f0"></div><div class="abs" style="left:183.6px;top:477.5px;width:11.2px;height:11.8px;background:#fff;border-radius:2px;border:1px solid #f0f0f0"></div><div class="abs" style="left:186.1px;top:468.8px;width:5.8px;height:1.8px;background:#484848"></div><div class="abs" style="left:188.1px;top:466.8px;width:1.8px;height:5.8px;background:#484848"></div><div class="abs" style="left:186.5px;top:483.9px;width:5px;height:1.7px;background:#484848"></div><svg class="abs" style="left:0;top:0" width="1200" height="750"><path fill="#e6e7e9" stroke="#fff" stroke-width="0.3" stroke-linejoin="round" d="M540.4,568.7 L537.6,566.6 L535.8,564.0 L534.0,563.6 L533.4,564.6 L531.6,563.9 L529.1,560.9 L527.1,560.9 L527.1,561.6 L523.7,561.6 L519.2,559.7 L516.2,560.0 L517.9,563.3 L520.0,566.0 L522.5,569.2 L524.9,572.4 L525.5,572.1 L524.3,570.5 L523.1,567.9 L521.3,565.3 L519.2,562.7 L519.1,560.9 L521.3,561.7 L522.5,564.0 L524.3,566.6 L525.7,568.6 L527.9,570.5 L529.8,572.4 L530.4,574.3 L530.4,575.9 L532.2,577.5 L534.6,578.8 L537.0,580.0 L540.7,581.4 L543.1,581.0 L544.9,581.5 L546.5,583.1 L549.2,584.0 L552.0,585.0 L554.0,586.8 L554.4,588.0 L555.2,588.9 L556.8,590.1 L557.7,590.9 L559.5,591.7 L560.7,592.0 L561.3,590.7 L561.9,589.9 L563.4,590.7 L563.8,592.0 L564.6,590.4 L562.5,589.3 L561.3,589.6 L559.5,590.0 L558.3,589.3 L557.0,588.0 L556.8,586.8 L557.3,583.7 L557.4,582.5 L555.8,581.5 L554.0,581.4 L551.6,581.5 L550.7,581.5 L551.2,579.4 L551.6,578.1 L552.2,576.9 L553.0,574.7 L551.6,574.2 L548.7,575.0 L548.6,576.5 L547.3,578.1 L543.7,578.5 L541.9,577.5 L540.3,575.0 L539.7,573.1 L539.9,570.5Z M569.8,478.3 L575.9,475.6 L579.5,472.9 L578.3,470.9 L585.6,467.8 L597.7,466.3 L609.8,463.9 L619.5,462.9 L628.0,464.8 L634.1,467.8 L643.8,469.2 L637.7,473.5 L635.3,477.5 L635.9,482.7 L634.1,486.4 L632.3,491.1 L629.2,493.4 L631.7,496.8 L628.0,498.9 L622.0,501.7 L617.1,505.2 L612.3,507.0 L609.8,508.6 L608.0,512.1 L606.2,517.3 L605.1,518.0 L602.5,516.2 L599.5,514.9 L597.7,513.0 L595.6,509.8 L593.4,505.2 L593.4,501.1 L596.5,498.9 L592.2,496.3 L591.0,492.3 L588.6,487.6 L585.6,484.4 L581.9,483.4 L575.9,483.9 L573.4,481.9 L571.0,480.1Z M629.2,507.2 L631.7,510.1 L631.1,510.5 L635.3,511.3 L640.2,509.8 L641.9,508.2 L640.4,505.8 L636.5,505.6 L631.1,505.4Z M555.2,573.8 L558.9,572.4 L560.7,572.3 L564.9,574.3 L568.3,576.0 L564.3,576.4 L563.7,575.4 L558.9,574.1Z M568.1,578.3 L570.0,576.4 L573.5,576.6 L575.4,578.0 L572.2,579.1Z M563.4,578.3 L565.8,578.6 L564.3,579.0Z M576.8,578.1 L578.6,578.4 L576.9,578.9Z M564.6,590.4 L566.8,588.0 L567.6,587.4 L570.4,586.4 L571.6,585.7 L571.4,587.6 L573.4,586.8 L573.4,586.1 L575.2,587.8 L578.3,587.9 L580.7,588.0 L583.1,587.8 L584.3,588.9 L584.6,590.5 L586.8,591.1 L588.6,593.2 L591.6,593.7 L595.3,595.0 L595.9,595.6 L597.7,598.6 L597.7,600.8 L600.1,601.7 L603.8,602.7 L604.6,604.1 L608.0,604.3 L611.6,605.3 L613.5,606.7 L615.6,607.5 L616.1,609.9 L614.7,613.6 L613.2,614.8 L611.6,616.7 L611.0,619.2 L610.8,622.7 L609.8,625.4 L608.6,628.0 L607.4,629.2 L604.4,629.5 L602.2,630.5 L599.8,632.8 L599.4,635.0 L598.1,637.4 L596.5,639.7 L595.0,641.3 L593.6,643.3 L591.7,645.0 L590.2,645.0 L587.5,643.7 L587.5,644.5 L589.0,646.5 L589.6,647.7 L588.6,649.3 L586.8,650.2 L583.1,650.7 L582.8,653.2 L579.5,653.5 L581.1,655.4 L579.5,656.9 L578.9,659.4 L576.5,661.2 L578.5,662.8 L578.3,664.0 L576.5,666.3 L574.6,667.9 L575.4,670.8 L575.6,672.0 L577.7,674.4 L579.3,674.8 L577.1,675.8 L574.6,676.1 L572.2,674.4 L569.8,672.3 L568.0,670.3 L567.0,667.1 L566.8,664.0 L566.8,662.0 L569.2,659.4 L568.9,655.7 L568.9,652.1 L569.2,648.1 L570.4,645.8 L571.5,642.4 L571.6,638.3 L572.2,635.0 L572.8,632.4 L572.9,629.9 L573.2,625.7 L573.1,623.4 L571.0,621.7 L568.6,620.4 L565.9,617.7 L564.7,615.5 L563.1,612.4 L561.9,609.9 L560.1,608.1 L559.7,606.3 L560.9,605.0 L561.3,603.9 L560.1,603.5 L560.7,601.4 L561.3,599.9 L562.8,599.0 L563.1,597.7 L564.6,596.1 L564.3,594.2 L564.5,592.7 L563.8,592.0Z M584.3,670.0 L588.0,669.4 L587.4,670.6 L585.0,670.6Z M583.4,587.8 L584.3,587.8 L584.3,588.5 L583.4,588.5Z M651.2,555.5 L655.9,556.3 L657.6,555.6 L662.0,554.1 L666.8,553.8 L670.2,553.4 L671.7,553.8 L671.1,555.9 L670.5,557.5 L670.7,558.2 L671.9,559.0 L674.4,559.4 L676.8,560.1 L677.8,561.6 L680.2,562.8 L681.4,562.9 L682.6,562.0 L682.6,560.2 L684.4,559.4 L686.3,559.8 L688.7,561.2 L691.1,561.7 L693.5,562.1 L694.7,561.6 L696.6,561.3 L697.5,561.7 L697.8,563.3 L699.0,566.0 L700.2,568.6 L701.4,571.2 L701.7,572.4 L703.2,575.0 L703.5,576.7 L705.1,578.8 L706.3,581.9 L708.1,583.7 L709.9,585.0 L710.9,585.6 L710.5,586.8 L711.7,588.0 L712.9,588.2 L715.4,587.3 L717.8,587.1 L720.5,586.4 L720.2,588.2 L719.0,591.1 L717.8,592.9 L716.6,595.4 L714.2,597.8 L713.3,598.4 L711.1,600.8 L708.7,603.0 L706.9,604.5 L706.4,605.8 L705.7,607.5 L706.0,609.1 L706.3,611.8 L707.4,613.6 L707.6,616.1 L707.7,618.5 L706.3,621.3 L703.2,622.7 L700.8,625.2 L701.3,628.0 L701.4,630.5 L698.4,632.4 L697.9,633.1 L698.1,635.7 L696.6,637.7 L696.0,638.2 L693.5,641.0 L691.7,642.8 L689.4,643.7 L686.3,643.9 L682.6,644.8 L680.7,644.1 L680.6,642.0 L679.6,639.0 L678.4,636.5 L676.5,633.7 L675.9,629.2 L674.4,625.4 L672.7,622.0 L672.9,619.2 L674.6,616.1 L674.4,611.8 L673.3,608.1 L672.7,606.5 L671.7,605.1 L669.6,602.7 L669.3,601.7 L669.9,600.3 L670.2,598.0 L670.1,596.1 L668.7,595.4 L666.8,595.5 L665.6,595.6 L664.4,593.8 L663.8,593.2 L662.5,593.1 L659.8,593.4 L658.1,594.0 L655.9,595.0 L653.5,594.5 L649.3,595.5 L647.1,594.4 L645.2,593.2 L643.2,591.7 L642.3,590.5 L641.7,589.3 L640.2,587.4 L638.1,585.7 L638.0,584.4 L637.1,582.9 L638.3,581.3 L638.6,577.5 L637.7,575.0 L638.9,571.5 L640.8,568.6 L642.6,566.4 L644.4,565.3 L646.2,563.6 L646.7,562.8 L646.5,561.3 L648.0,558.9 L649.1,558.5 L650.1,557.9Z M718.2,615.5 L719.6,619.8 L718.4,622.3 L717.2,625.4 L716.0,629.9 L715.4,631.8 L713.6,632.4 L711.4,629.9 L710.9,627.7 L712.1,625.4 L711.7,622.9 L712.3,620.7 L714.8,619.8 L716.6,617.3Z M651.6,555.2 L650.7,554.4 L649.4,553.5 L647.6,553.8 L647.7,551.7 L646.9,551.4 L647.7,549.3 L647.8,546.7 L647.2,545.2 L648.6,544.2 L651.7,544.3 L654.1,544.6 L656.2,544.6 L656.9,542.8 L657.0,540.7 L655.7,538.9 L653.1,538.0 L652.6,537.1 L654.7,536.4 L656.4,536.7 L656.2,535.0 L657.0,535.5 L658.5,535.3 L660.2,534.2 L660.3,533.1 L662.4,532.3 L663.2,531.3 L664.1,529.7 L665.6,529.0 L666.8,528.5 L668.3,528.7 L668.9,528.2 L668.8,526.5 L668.2,525.4 L668.2,523.0 L671.2,521.7 L670.8,523.8 L671.6,524.0 L670.7,525.0 L670.0,526.4 L670.5,527.2 L671.7,527.4 L671.7,528.1 L672.9,527.7 L674.7,527.0 L675.7,528.2 L677.8,527.6 L680.8,526.7 L681.4,527.4 L682.6,527.2 L683.8,525.9 L683.8,523.3 L684.6,521.9 L685.8,521.7 L687.0,523.0 L688.0,520.7 L686.9,520.0 L686.9,519.1 L688.3,518.5 L692.3,518.5 L695.0,517.8 L693.2,516.4 L691.1,516.7 L688.7,517.3 L686.3,517.8 L684.3,516.5 L684.4,514.9 L684.2,512.1 L688.1,508.8 L688.7,507.0 L687.6,506.6 L685.3,507.0 L684.2,508.8 L683.0,510.5 L680.8,512.1 L679.3,513.2 L679.2,516.4 L680.8,517.1 L681.3,518.2 L680.3,518.9 L678.6,520.1 L678.4,521.7 L678.2,523.5 L677.5,524.5 L675.6,525.7 L674.0,525.7 L673.8,524.5 L674.0,523.5 L672.9,521.7 L671.9,519.4 L671.3,517.8 L670.7,519.4 L668.1,521.0 L666.8,521.2 L665.3,519.6 L664.8,516.9 L664.4,514.9 L664.5,514.0 L666.8,512.4 L667.7,511.9 L671.0,511.1 L671.9,508.4 L673.5,506.2 L675.8,503.6 L674.7,501.7 L677.8,501.1 L679.5,501.3 L681.4,498.5 L683.8,497.9 L686.9,496.8 L689.7,495.4 L692.3,495.7 L696.0,497.2 L694.7,498.5 L698.4,499.2 L702.0,500.0 L706.9,502.7 L708.1,504.6 L706.9,505.8 L703.2,505.6 L700.2,504.8 L697.7,503.8 L700.2,508.2 L700.8,509.6 L703.8,510.5 L704.5,510.1 L707.5,509.0 L706.9,507.2 L709.3,505.4 L711.7,506.2 L711.7,505.2 L711.1,501.3 L714.2,502.1 L714.8,504.6 L717.2,502.7 L722.7,500.4 L723.9,501.5 L727.5,500.9 L731.1,500.0 L731.8,498.3 L737.2,499.6 L739.6,500.4 L739.6,501.3 L741.5,497.9 L739.6,495.7 L741.5,492.3 L742.1,491.1 L745.7,491.1 L746.9,494.6 L746.7,500.0 L745.7,501.1 L747.5,504.2 L749.3,501.1 L748.1,496.8 L749.3,493.4 L753.0,492.7 L756.0,493.4 L757.8,494.6 L756.0,490.0 L762.7,488.8 L763.9,486.4 L767.5,484.9 L773.6,483.9 L779.7,482.7 L784.9,479.6 L788.2,481.4 L794.2,482.7 L795.4,485.2 L791.8,488.8 L787.0,490.7 L791.8,489.3 L796.1,490.0 L801.5,490.0 L807.6,490.0 L811.8,490.0 L814.9,492.3 L815.5,495.7 L817.3,496.1 L819.7,494.6 L823.3,494.6 L828.2,492.3 L829.4,491.6 L834.3,492.7 L839.1,493.4 L842.8,495.9 L848.8,495.7 L852.5,497.9 L853.7,498.9 L857.3,498.5 L862.2,497.9 L865.2,498.3 L864.6,500.0 L865.8,497.9 L871.9,498.3 L876.7,500.0 L880.4,501.7 L885.2,504.0 L889.1,506.0 L885.8,509.4 L882.2,508.6 L878.5,505.8 L877.9,506.2 L876.7,508.2 L874.9,509.0 L873.7,508.8 L875.5,511.7 L875.9,513.0 L870.7,514.9 L867.0,516.2 L864.6,517.6 L859.7,518.0 L856.7,518.0 L856.1,521.2 L854.9,524.3 L856.5,524.5 L854.6,526.7 L852.5,529.4 L850.9,529.7 L848.5,532.9 L847.2,529.7 L847.0,525.5 L847.6,523.0 L850.6,520.3 L853.7,516.7 L856.7,514.0 L857.9,513.0 L852.5,514.3 L848.8,514.5 L847.6,516.7 L845.8,518.5 L841.5,519.4 L841.3,518.5 L835.5,518.9 L831.8,518.9 L828.2,521.2 L825.8,523.8 L824.6,527.2 L825.2,528.4 L828.2,528.1 L829.8,529.4 L828.8,532.9 L828.8,536.9 L826.4,540.0 L823.3,543.0 L819.7,545.5 L818.4,545.1 L816.9,546.2 L815.7,547.4 L815.7,548.4 L813.0,549.8 L812.9,550.7 L814.1,551.6 L815.3,553.8 L815.3,555.9 L814.9,556.4 L811.8,557.5 L811.6,555.9 L811.9,553.8 L810.0,552.4 L810.0,550.3 L809.3,549.6 L806.4,551.0 L805.9,551.1 L805.8,548.8 L806.1,548.3 L803.3,549.8 L801.3,551.0 L802.1,552.7 L802.7,553.4 L804.9,552.7 L807.0,553.2 L805.1,554.5 L804.3,555.2 L803.1,556.6 L804.5,558.6 L806.1,560.9 L806.1,562.1 L804.5,562.9 L806.4,563.5 L805.8,565.6 L803.9,567.9 L803.5,568.8 L801.5,570.5 L799.9,572.1 L796.9,573.3 L795.4,573.7 L792.4,574.7 L792.2,575.9 L791.6,574.3 L789.7,574.2 L789.4,574.3 L787.9,575.2 L786.7,577.5 L787.6,579.4 L789.6,581.3 L790.8,584.4 L791.0,586.2 L788.2,588.2 L787.8,589.3 L785.7,590.4 L785.7,588.7 L785.1,588.2 L783.9,587.9 L783.2,586.6 L782.1,585.6 L780.9,585.3 L780.8,584.5 L779.7,584.5 L779.7,585.6 L779.1,587.4 L778.7,589.6 L779.4,589.6 L780.3,592.1 L781.9,592.9 L783.6,594.8 L783.9,596.6 L784.8,599.1 L783.8,599.0 L781.2,597.4 L780.3,595.4 L780.0,594.2 L779.3,592.9 L777.6,591.1 L777.9,588.7 L778.0,586.2 L777.2,583.7 L776.8,580.6 L775.4,580.0 L773.8,581.5 L772.8,581.3 L772.8,578.8 L771.8,576.5 L770.2,575.0 L769.7,573.3 L768.1,573.5 L766.3,574.0 L763.9,574.3 L763.7,575.6 L762.4,576.5 L759.4,579.1 L758.1,580.6 L755.8,581.9 L755.7,584.8 L755.2,586.8 L755.3,588.3 L754.2,589.5 L753.2,590.1 L752.4,591.0 L751.2,589.9 L750.8,588.7 L749.7,586.4 L749.1,585.1 L748.1,582.7 L747.9,581.9 L747.2,580.0 L746.7,577.5 L746.6,575.0 L746.3,573.7 L745.7,575.0 L744.5,575.4 L742.1,573.3 L743.3,572.4 L741.7,571.8 L740.8,571.4 L739.6,570.1 L739.2,569.3 L736.0,569.5 L733.0,569.6 L729.9,569.3 L727.9,568.8 L727.5,567.3 L724.5,567.8 L722.0,566.6 L720.2,564.9 L719.0,563.2 L717.8,562.8 L717.2,563.3 L716.6,564.0 L717.4,566.0 L719.0,567.7 L719.3,569.2 L720.0,570.1 L720.5,568.4 L721.0,569.9 L720.8,570.8 L721.4,570.9 L723.9,570.9 L726.3,568.6 L726.9,570.5 L729.3,571.7 L730.9,573.1 L729.3,575.6 L728.5,577.5 L727.5,578.1 L725.1,579.8 L723.9,580.0 L721.7,581.3 L717.8,583.1 L712.9,585.2 L711.1,585.3 L710.5,583.7 L710.2,581.9 L709.9,580.0 L708.1,577.5 L705.9,574.3 L704.5,571.2 L702.6,568.6 L700.8,566.0 L700.8,564.0 L700.0,566.2 L698.4,564.6 L697.8,563.3 L697.5,561.7 L699.8,561.6 L700.7,560.0 L701.4,558.1 L701.8,555.9 L701.9,555.3 L702.3,554.4 L700.3,554.1 L697.8,555.1 L695.6,554.1 L693.7,554.2 L692.3,554.2 L691.5,553.8 L690.3,552.0 L690.7,550.6 L690.1,549.6 L691.7,549.0 L693.5,549.0 L693.5,548.1 L696.6,547.8 L699.0,546.7 L700.8,546.7 L702.6,547.7 L705.1,548.3 L706.9,548.1 L708.7,547.4 L708.9,545.9 L706.9,544.5 L704.5,543.0 L703.2,541.9 L704.5,540.0 L706.0,538.9 L703.8,539.2 L700.8,540.3 L700.8,541.3 L702.6,541.6 L701.3,542.2 L699.6,543.1 L699.0,542.8 L697.8,541.8 L699.1,540.7 L697.2,540.3 L695.6,540.0 L694.4,541.9 L693.0,543.4 L692.3,544.9 L692.0,545.9 L692.3,546.7 L692.4,547.4 L693.5,547.8 L692.3,548.1 L691.1,548.7 L690.1,549.3 L689.9,548.4 L688.1,548.3 L687.2,549.6 L686.1,548.8 L685.9,550.3 L686.3,551.0 L687.5,552.4 L686.3,553.1 L686.3,554.5 L685.6,554.5 L684.7,554.1 L684.2,552.7 L684.1,552.0 L683.5,551.3 L682.6,550.0 L681.9,548.8 L682.0,547.4 L681.4,546.4 L680.8,545.9 L678.4,544.5 L676.8,543.4 L675.9,541.9 L675.0,542.2 L675.0,541.2 L673.3,541.8 L673.4,543.4 L674.7,544.3 L675.6,545.9 L677.8,546.8 L677.8,547.5 L679.0,548.1 L680.8,549.3 L680.6,549.8 L679.0,548.8 L678.5,549.8 L679.1,551.0 L678.4,551.8 L677.4,552.4 L677.8,551.4 L677.3,549.6 L675.9,548.7 L675.6,548.4 L674.1,547.7 L673.2,547.0 L671.7,546.1 L671.1,545.2 L670.8,544.5 L670.2,543.6 L669.1,543.1 L667.5,544.0 L666.4,544.9 L664.9,544.8 L663.2,544.5 L662.0,544.9 L662.1,546.1 L662.2,546.8 L661.0,547.5 L659.3,548.6 L658.0,550.3 L658.6,551.3 L657.7,552.0 L657.4,553.0 L655.9,554.1 L653.0,554.2Z M805.9,569.6 L806.2,569.9 L805.8,571.8 L805.0,573.7 L804.1,572.4 L804.8,570.5Z M646.5,532.1 L648.3,531.7 L650.6,531.0 L651.1,529.2 L650.8,527.9 L649.5,527.7 L648.6,527.2 L649.5,526.2 L649.5,525.9 L648.0,526.4 L648.0,527.2 L646.2,527.7 L646.5,529.0 L647.4,529.4 L646.8,530.4 L645.7,531.2Z M671.5,474.8 L675.3,480.1 L679.0,482.4 L683.8,478.3 L681.4,474.0 L677.8,473.5Z M680.2,472.9 L685.0,475.1 L691.1,473.2 L686.3,472.1Z M720.8,494.3 L722.0,492.3 L723.3,490.0 L725.1,487.6 L727.5,485.4 L732.4,483.2 L737.2,481.9 L741.8,481.4 L740.8,483.2 L736.0,485.2 L731.1,487.6 L728.1,490.0 L726.3,492.3 L728.1,495.7 L728.1,496.6 L725.1,496.6 L723.3,496.1Z M774.8,475.6 L779.7,478.3 L785.7,476.7 L783.3,473.5 L777.2,470.1 L771.2,473.5Z M824.6,485.2 L828.2,486.9 L833.1,486.4 L834.3,483.9 L828.2,483.4Z M836.7,485.7 L840.3,486.9 L841.5,485.9 L838.5,485.2Z M874.9,495.7 L877.9,496.1 L879.8,495.0 L876.7,494.3Z M831.2,527.4 L832.2,530.5 L832.2,532.9 L833.7,536.1 L832.1,535.6 L831.6,539.2 L832.4,540.0 L832.3,540.7 L830.6,540.7 L830.6,538.4 L830.6,534.5 L830.3,531.3 L830.4,528.9Z M828.6,547.4 L829.0,547.0 L829.4,545.9 L832.2,546.7 L834.9,544.8 L834.6,543.3 L831.8,543.3 L830.5,541.5 L830.3,543.7 L829.8,544.9 L828.6,545.5 L828.0,546.4Z M829.8,547.7 L830.0,548.8 L830.6,550.3 L830.0,552.0 L829.4,553.8 L829.2,555.6 L828.0,556.6 L827.8,555.9 L826.7,557.0 L826.0,557.1 L824.6,557.1 L824.4,556.6 L824.3,557.5 L823.1,558.6 L822.3,557.5 L822.5,557.0 L820.9,557.1 L819.1,557.5 L817.3,557.9 L817.8,557.3 L819.3,555.9 L821.2,555.7 L822.5,555.7 L823.3,555.6 L824.2,554.1 L824.9,553.1 L824.6,554.1 L826.1,553.5 L827.0,552.4 L828.0,551.0 L828.2,549.6 L828.2,548.7 L828.6,547.8Z M817.3,558.1 L818.3,559.0 L818.4,559.6 L817.8,561.5 L816.9,562.0 L816.3,561.5 L816.4,560.0 L815.7,559.3 L815.8,558.8 L816.6,558.5Z M819.1,557.9 L820.9,557.4 L821.8,558.2 L821.2,558.9 L820.3,558.6 L819.7,559.7 L819.0,558.9Z M755.4,588.9 L756.9,590.4 L757.7,592.1 L757.2,593.2 L756.0,593.7 L755.3,592.9 L755.2,591.1Z M804.5,578.1 L806.6,578.1 L806.7,580.0 L805.8,581.5 L806.4,583.7 L808.8,584.4 L808.9,585.5 L807.6,584.4 L805.8,584.1 L804.7,583.5 L804.2,582.5 L804.3,581.0 L804.4,579.4Z M806.4,592.3 L808.2,590.2 L810.6,588.9 L811.8,591.7 L811.2,593.2 L810.6,594.0 L808.8,592.9 L808.2,591.7Z M809.4,585.6 L811.0,586.8 L810.0,588.7 L809.2,587.7Z M806.4,586.4 L807.8,587.2 L807.9,589.5 L807.0,589.3 L806.4,588.0Z M800.7,590.5 L803.3,587.7 L803.6,587.1 L801.5,589.6Z M804.3,584.4 L805.8,584.7 L805.4,585.8 L804.9,585.6Z M790.6,598.4 L793.4,597.8 L795.4,596.9 L796.7,595.4 L797.9,594.8 L799.1,593.5 L800.3,592.3 L801.5,593.5 L803.0,594.5 L802.1,595.5 L801.3,596.0 L801.5,598.0 L802.7,599.6 L801.3,599.9 L800.9,601.8 L799.7,602.7 L799.4,605.1 L798.5,605.7 L797.3,605.7 L797.3,605.0 L795.4,604.8 L793.9,604.7 L792.0,604.3 L791.8,602.7 L790.8,601.4 L790.6,599.6Z M774.0,594.0 L776.6,594.5 L778.1,596.2 L780.3,598.2 L782.1,599.0 L783.9,600.8 L784.5,602.0 L785.5,603.6 L787.0,604.5 L786.8,607.9 L785.1,607.9 L782.5,605.7 L780.2,602.0 L778.2,598.8 L776.0,596.9 L774.1,595.0Z M786.1,609.1 L787.0,608.0 L787.9,608.1 L790.0,609.0 L792.4,609.2 L793.0,608.6 L795.1,609.3 L797.3,610.3 L797.1,611.4 L794.2,610.9 L791.8,610.6 L789.4,610.3 L787.4,609.8Z M797.9,610.8 L802.7,610.9 L807.6,610.9 L807.6,611.5 L802.7,611.7 L797.9,611.5Z M808.2,613.4 L810.0,611.8 L812.8,611.0 L811.2,612.1 L808.8,613.2Z M802.7,612.4 L804.9,612.5 L804.3,613.2Z M803.2,607.6 L804.4,607.6 L804.3,604.5 L805.0,604.1 L805.8,605.7 L807.0,606.9 L807.6,606.3 L806.7,604.8 L806.1,603.3 L808.1,602.0 L807.9,601.6 L805.8,601.9 L804.5,602.4 L804.2,600.8 L805.0,600.2 L807.6,600.3 L809.4,600.2 L810.2,599.0 L808.8,599.6 L806.4,599.5 L804.9,599.3 L803.8,600.2 L803.7,601.8 L803.1,603.3 L802.5,604.5 L803.3,605.2Z M813.0,598.2 L814.2,599.6 L813.6,601.8 L813.2,600.2Z M813.6,604.7 L817.0,604.7 L816.1,605.2 L813.6,605.1Z M817.5,601.8 L819.1,601.3 L820.9,601.8 L821.2,603.5 L822.1,604.8 L824.0,603.5 L825.8,602.8 L829.0,603.9 L832.4,605.1 L835.2,606.9 L837.3,608.1 L836.7,609.1 L837.9,610.6 L839.7,612.4 L841.3,613.4 L839.7,613.5 L836.9,612.4 L835.5,610.6 L833.7,610.2 L832.4,610.9 L831.8,612.0 L829.4,612.0 L827.6,610.8 L825.8,611.0 L826.7,609.7 L826.4,608.7 L824.6,606.9 L822.7,606.2 L820.3,605.4 L819.5,605.7 L818.5,604.2 L820.3,603.9 L818.5,603.5 L817.3,602.4Z M838.5,607.6 L840.3,607.5 L843.0,605.9 L842.4,607.5 L840.3,608.5Z M867.9,644.3 L869.8,645.5 L870.4,647.6 L871.8,648.7 L874.9,648.8 L874.2,650.8 L873.1,651.4 L872.1,653.5 L871.0,654.4 L870.4,654.0 L870.9,652.4 L870.4,651.8 L869.2,651.1 L870.2,650.1 L870.3,648.4 L869.7,646.9 L868.2,645.1Z M867.9,652.8 L869.2,653.4 L869.8,654.5 L869.1,655.6 L868.0,657.3 L868.2,657.8 L866.2,658.5 L865.3,660.8 L864.0,661.8 L862.5,661.8 L860.5,661.2 L860.3,660.5 L861.6,659.0 L863.1,657.8 L865.2,656.3 L866.4,654.5 L867.1,653.2Z M857.3,625.5 L860.3,627.3 L861.0,628.3 L858.5,627.1Z M668.8,546.1 L669.8,545.2 L669.9,547.0 L669.5,547.5 L668.9,547.1Z M668.3,548.3 L669.5,547.8 L670.2,548.8 L670.0,550.7 L668.7,551.0Z M673.4,552.5 L674.7,552.1 L677.3,552.0 L676.8,553.8 L676.7,554.2 L674.1,553.4Z M686.9,555.9 L690.3,556.2 L690.1,556.6 L687.0,556.3Z M697.5,556.6 L698.4,556.2 L700.3,555.6 L699.5,556.6 L698.4,557.1Z M671.8,525.2 L673.5,524.5 L673.6,525.5 L673.2,526.4 L671.9,526.0Z M680.4,523.0 L681.5,521.4 L681.3,522.4Z M723.0,585.5 L724.5,585.5 L723.9,585.8Z"/><path fill="none" stroke="#fff" stroke-width="0.45" stroke-linejoin="round" stroke-linecap="round" d="M655.9,556.4 L656.9,560.5 L654.0,561.1 L647.8,565.0 L647.8,566.9 M642.3,566.4 L647.8,566.4 M647.8,566.9 L647.8,568.6 L643.8,568.6 L643.8,571.8 L642.6,572.4 L642.6,574.6 L637.7,575.0 M647.8,566.9 L652.5,569.9 L659.8,574.9 L662.2,576.5 L663.4,577.4 L665.4,576.9 L667.5,575.1 L672.9,571.8 M668.8,553.9 L668.3,556.6 L667.5,558.2 L669.3,560.5 L669.9,563.1 L670.8,561.1 L672.3,559.2 M669.9,563.1 L670.4,567.9 L670.5,570.5 L672.9,571.8 M672.9,571.8 L676.5,572.4 L687.5,576.9 L687.5,576.2 L688.7,576.2 L688.7,561.2 M688.7,573.7 L703.1,573.7 M652.5,569.9 L650.3,569.9 L651.9,580.9 L651.7,581.9 L647.1,581.9 L645.4,582.0 L644.4,581.8 L643.6,582.7 M638.3,581.3 L641.4,580.5 L643.6,582.7 L644.5,585.7 L641.7,585.5 L638.1,585.7 M638.0,584.2 L641.4,584.2 L641.4,584.7 L638.0,584.8 M640.2,587.4 L641.7,586.6 L641.7,585.5 M663.4,577.4 L663.4,580.1 L662.6,581.9 L659.6,582.5 L658.6,582.5 M658.6,582.5 L655.9,583.5 L654.1,584.6 L652.9,585.6 L651.7,586.8 L651.7,588.2 M651.7,588.2 L648.6,588.4 L648.0,587.4 L644.5,585.7 M676.5,572.4 L677.2,575.0 L677.2,580.6 L674.9,584.1 M674.9,584.1 L670.5,584.6 L666.8,585.0 L663.2,584.1 L662.7,586.6 M662.7,586.6 L661.3,586.0 L659.4,584.4 L658.6,582.5 M687.5,576.9 L687.5,581.6 L685.6,583.7 L686.1,587.4 L686.9,588.7 M686.9,588.7 L684.4,588.0 L681.4,589.9 L678.4,591.5 L677.2,591.7 M677.2,591.7 L676.5,588.7 L675.6,585.2 L674.9,584.1 M675.6,585.2 L674.7,588.0 L672.9,591.1 L671.1,592.3 L669.3,594.2 L668.8,595.2 M662.7,586.6 L661.7,589.9 L661.6,593.1 M660.3,593.3 L660.3,589.9 L659.4,587.4 M659.8,593.4 L659.0,591.1 L658.4,587.4 L654.8,587.4 M654.6,594.6 L655.1,591.7 L655.0,588.9 L654.8,587.4 M659.4,587.4 L661.3,586.0 M655.0,588.9 L652.9,589.0 L651.7,588.2 M649.3,595.5 L648.2,592.9 L648.3,591.6 L648.6,588.4 M644.4,592.4 L645.9,590.5 L646.8,590.6 L648.3,591.6 M642.2,589.8 L644.4,588.7 L645.4,589.5 L645.9,590.5 M677.2,591.7 L675.9,594.2 L678.0,598.8 M678.0,598.8 L674.5,598.2 L672.1,598.2 L670.2,598.0 M672.1,598.2 L672.1,599.6 L670.0,599.6 M674.5,598.2 L675.8,599.3 L675.9,601.4 L675.2,603.6 L673.5,603.6 L672.7,605.6 L671.8,605.6 M678.0,598.8 L678.5,596.6 L680.9,596.6 M680.9,596.6 L680.9,595.4 L685.6,595.7 L688.7,594.8 L691.6,594.8 M691.6,594.8 L688.7,591.7 L687.5,590.2 L686.9,588.7 M680.9,596.6 L679.9,600.2 L678.0,603.3 L676.9,606.1 L675.8,606.8 L674.1,606.4 L673.2,607.9 M673.3,608.1 L674.4,608.0 L678.5,608.0 L679.0,609.7 L682.0,609.6 L684.8,609.7 L685.0,614.5 L687.5,614.6 M687.5,614.6 L687.5,616.7 L685.0,616.7 L685.0,620.7 L686.7,622.4 M672.7,622.0 L675.3,622.2 L680.8,622.2 L683.8,622.9 L686.7,622.4 L689.0,622.7 M683.8,622.9 L683.8,628.0 L682.6,628.0 L682.6,636.2 L679.0,636.8 L678.4,636.5 M682.6,631.5 L685.0,633.7 L686.3,632.2 L689.3,632.7 L691.1,630.0 L694.0,628.2 M694.0,628.2 L691.7,626.0 L689.0,622.7 M694.0,628.2 L696.3,628.5 L697.8,626.7 L698.4,624.8 L698.3,621.7 L695.2,619.9 M689.0,622.7 L691.1,622.9 L693.3,621.0 L695.2,619.9 M696.3,628.5 L697.2,630.5 L697.2,634.1 L698.3,634.1 M696.0,632.8 L697.2,633.1 L697.1,634.7 L696.0,634.4 L696.0,632.8 M691.1,637.8 L692.9,636.5 L694.0,637.7 L692.6,639.1 L691.1,637.8 M687.5,614.6 L689.0,614.5 L691.1,615.5 L692.8,616.1 L693.5,617.2 L694.5,617.2 L694.5,615.7 L692.8,615.3 L693.0,612.6 L693.4,611.2 L695.7,610.8 M695.7,610.8 L698.3,612.3 L698.6,613.6 L698.8,616.1 L698.0,617.4 L698.6,617.9 L695.2,619.9 M707.4,613.6 L703.8,615.0 L700.8,615.0 L700.2,614.6 M698.3,612.3 L699.6,612.4 L700.2,614.6 L700.6,617.3 L701.8,619.2 L701.8,620.4 L701.2,621.8 L700.0,620.4 L700.2,618.5 L698.6,617.9 M705.9,606.5 L704.0,604.6 L699.6,602.0 M699.6,602.0 L695.4,602.0 L695.7,603.6 L695.4,605.1 L694.0,606.3 L694.3,608.7 L695.7,610.8 M699.6,602.0 L699.6,599.6 L700.8,599.0 L700.2,596.6 L699.6,595.7 M699.6,595.7 L702.0,595.5 L704.5,596.5 L706.3,596.7 L708.1,596.0 L709.2,596.1 M709.2,596.1 L708.1,597.4 L708.1,601.9 L708.7,603.0 M709.2,596.1 L711.1,595.0 L712.9,594.8 L716.6,591.1 L711.7,589.9 L710.3,587.6 M710.3,587.6 L709.1,587.4 L709.8,585.6 L706.9,583.2 L705.1,583.2 L702.6,583.4 M709.8,585.6 L710.6,585.3 M702.6,583.4 L703.2,580.0 L705.2,578.8 M702.6,583.4 L702.0,585.3 L700.8,587.4 L699.8,587.9 L699.6,590.5 L698.4,591.1 L700.2,592.7 L701.2,594.3 L699.6,595.7 M687.5,590.2 L688.7,588.3 L692.3,589.3 L694.7,588.7 L697.2,586.2 L698.4,588.0 L699.8,587.9 M691.6,594.8 L693.5,595.5 L695.8,596.6 L697.2,596.5 L699.6,595.7 M695.8,596.6 L696.3,598.2 L694.6,599.9 L694.3,602.5 L693.5,604.1 L693.9,606.2 M694.3,602.5 L695.4,602.0 M693.5,604.1 L695.7,603.6 M693.9,606.2 L695.4,605.1 M647.6,546.8 L650.5,546.8 L650.0,549.6 L649.3,551.7 L649.4,553.5 M656.2,544.6 L659.2,545.5 L662.1,546.1 M667.5,544.0 L666.8,541.8 L666.8,540.9 L665.8,540.3 L667.6,538.3 L668.3,536.1 L665.9,535.3 L663.4,534.5 L661.4,532.8 M665.9,535.3 L665.8,534.4 L665.6,533.3 L665.5,531.7 L666.8,530.8 L667.1,529.2 M661.4,532.8 L663.6,532.3 L665.6,533.3 M665.8,534.4 L665.4,535.2 L665.9,535.3 M667.6,538.3 L670.0,538.4 L671.1,539.4 L670.6,540.4 L669.3,540.7 L668.5,540.0 L666.8,540.9 M670.0,538.4 L674.1,538.4 L673.9,537.4 L675.1,536.4 L673.0,534.1 L676.3,533.1 L675.7,528.2 M671.1,539.4 L673.2,539.2 L675.0,540.0 L675.0,541.2 M675.0,540.0 L677.9,539.7 L678.4,538.0 L679.2,537.7 L678.9,536.6 L675.1,536.4 M676.3,533.1 L678.0,533.9 L681.2,535.3 L685.6,536.0 L685.2,537.1 L681.2,538.0 L679.2,537.7 M678.9,536.6 L681.2,535.3 M685.6,536.0 L687.5,533.6 L687.0,531.2 L687.3,528.2 L686.0,527.4 L682.4,527.4 M686.0,527.4 L686.0,526.4 L684.0,525.9 M686.0,526.4 L690.6,525.2 L689.4,527.7 L687.3,528.2 M683.8,524.5 L688.4,524.0 L690.6,525.2 L692.6,524.3 L692.0,522.3 L689.0,521.2 L688.0,521.4 M692.0,522.3 L691.6,519.8 L692.3,518.5 M692.6,524.3 L695.8,525.4 L696.9,531.0 L695.5,532.5 L687.0,532.1 M690.6,525.2 L692.6,524.3 M687.0,531.2 L687.0,532.1 M685.6,536.0 L685.2,537.1 L686.1,537.7 L690.6,537.2 L692.6,541.5 L694.4,541.9 M690.6,537.2 L692.3,537.2 L694.7,540.1 L695.0,540.4 M695.5,532.5 L700.1,531.7 L701.5,533.9 L707.0,535.2 L706.6,537.8 L704.7,539.1 M677.9,539.7 L678.5,540.0 L681.2,540.9 L683.0,540.6 L686.1,537.7 M683.0,540.6 L684.4,541.9 L685.6,542.7 L685.9,543.4 L693.0,544.0 M675.0,541.5 L676.9,541.5 L678.5,540.0 M676.9,541.5 L677.5,541.9 L681.4,542.4 L681.9,541.9 L681.2,540.9 M681.4,542.4 L681.9,543.4 L682.1,544.9 L680.8,545.9 M681.9,541.9 L683.0,540.6 M682.1,544.9 L683.0,545.5 L683.3,546.8 L683.2,548.1 L683.8,548.6 L683.5,550.0 M683.3,546.8 L685.5,546.2 L685.9,543.4 M685.5,546.2 L686.3,547.7 L683.8,548.6 M686.3,547.7 L690.3,547.1 L692.3,546.7 M695.0,517.8 L692.1,516.5 M692.3,518.5 L692.6,518.7 M692.1,516.5 L694.7,512.1 L694.7,506.8 L693.5,504.4 L693.5,502.1 L692.9,500.0 L694.7,498.5 M692.9,500.0 L689.9,498.1 L689.5,499.6 L687.1,500.4 L683.3,499.8 M683.3,499.8 L687.1,502.3 L687.6,506.6 M683.3,499.8 L680.3,501.1 L677.0,505.8 L675.6,507.8 L673.0,511.1 L673.2,515.8 L673.5,517.6 L672.3,519.3 L671.9,519.4 M668.8,526.5 L670.4,526.7 M708.7,547.4 L711.1,548.0 L712.9,547.7 L714.8,546.8 L717.2,547.0 M706.9,544.5 L710.5,544.9 L714.8,546.8 M711.1,548.0 L712.9,548.1 L714.8,551.0 L712.7,550.0 M712.9,547.7 L714.8,548.1 L716.6,550.0 L717.7,551.8 M712.7,550.0 L712.0,551.8 L712.7,553.5 L714.2,555.5 L713.4,557.9 L716.2,562.0 L717.2,563.3 M712.7,553.5 L709.8,553.7 L708.1,557.4 L705.7,560.1 L703.2,561.3 L701.4,559.3 M701.4,558.1 L702.8,557.7 L702.0,555.5 M705.7,560.1 L707.4,560.8 L712.6,564.4 L714.8,564.5 L716.6,564.0 M703.2,561.3 L703.2,563.5 L700.8,564.0 M699.8,561.6 L700.8,564.0 M701.4,559.3 L701.4,561.3 L700.8,564.0 M714.8,564.5 L716.2,565.3 L717.1,565.3 M710.3,580.8 L711.7,579.5 L714.8,579.8 L716.6,578.1 L721.4,577.5 L725.8,576.2 L725.3,572.8 L722.2,572.6 L721.0,570.9 M721.4,577.5 L722.8,580.5 M725.8,576.2 L726.5,570.0 M725.3,572.8 L726.3,571.2 M717.7,551.8 L716.3,550.3 L712.7,550.0 M723.9,553.4 L727.9,552.1 L732.6,555.7 L731.9,558.3 L732.2,561.3 L733.3,562.0 L732.2,563.6 L735.1,567.0 L733.1,569.6 M722.0,547.0 L726.3,547.7 L727.5,547.7 L729.4,545.7 L732.7,547.8 L739.2,553.2 L736.6,554.8 L732.6,555.7 M732.2,563.6 L738.8,563.5 L742.4,560.8 L742.7,559.3 L744.6,557.8 L745.2,554.6 L749.1,553.5 M739.2,553.2 L740.8,553.8 L742.4,553.7 L743.9,552.4 L745.2,554.2 L749.1,553.5 M739.2,553.2 L740.6,551.0 L743.9,549.3 L747.8,550.3 M743.9,549.3 L744.5,546.4 L747.5,545.9 L748.4,544.9 L755.7,546.5 M729.4,545.7 L726.3,542.2 L726.3,547.7 M729.4,545.7 L732.4,543.3 L738.4,545.4 L740.8,548.1 L744.5,546.4 M715.7,540.7 L717.2,539.7 L714.8,537.1 L716.0,533.9 L720.0,531.8 L725.9,533.6 L732.8,533.3 L732.4,528.2 L741.1,526.0 L744.2,525.9 L751.5,527.6 L755.4,533.3 L759.5,532.9 L764.1,535.8 M764.1,535.8 L770.0,533.4 L777.2,534.5 L782.3,532.5 L788.2,534.5 L796.7,534.2 L799.9,534.9 M765.2,568.1 L765.2,566.1 M755.5,564.9 L756.6,563.1 M770.3,575.4 L770.7,574.0 M781.4,574.7 L779.8,575.9 L780.3,576.9 L781.1,576.9 L780.8,579.3 L782.2,578.5 L784.5,578.4 L785.5,580.6 L786.5,583.2 L786.0,583.4 L782.7,583.5 L783.2,586.6 M781.4,574.7 L782.2,573.2 M779.8,575.9 L778.5,576.5 L776.9,578.1 L778.0,580.9 L777.5,582.5 L778.7,584.7 L779.2,586.4 L778.2,588.3 M782.2,573.2 L784.4,575.7 L785.7,577.9 L788.8,581.0 L788.8,582.9 L788.8,585.8 L787.0,587.4 L785.1,588.2 M788.8,582.9 L786.5,583.2 M779.9,592.9 L781.0,593.9 L782.1,593.3 M811.9,552.7 L814.1,551.6 M829.4,604.0 L829.4,612.0 M791.3,598.4 L792.4,599.7 L794.5,599.0 L797.5,599.0 L798.8,595.6 L801.0,595.7 M808.9,612.3 L810.0,612.0 L810.1,612.4 M755.5,564.9 L757.8,566.1 L759.4,566.9 L761.2,567.3 L763.9,568.1 L765.2,568.1 M766.2,566.9 L766.3,567.5 L770.0,567.4 L770.0,566.2 M546.5,583.1 L547.3,581.3 L548.6,581.1 L548.0,579.8 L548.0,579.0 L550.1,579.0 L550.1,581.4 L550.7,581.5 M550.1,579.0 L551.2,578.1 M550.1,581.4 L550.0,583.2 L549.2,584.0 M550.0,583.2 L552.0,583.9 L552.0,585.0 M552.0,585.0 L553.2,584.0 L555.2,582.9 L557.4,582.5 M554.4,587.3 L555.6,587.4 L556.8,587.6 M557.7,590.9 L557.9,589.3 M564.6,590.4 L563.8,592.0 M571.9,586.4 L570.4,587.4 L569.8,589.6 L570.6,591.1 L571.0,592.3 L573.4,592.4 L576.5,593.3 L576.7,596.7 L577.1,598.5 M562.8,599.0 L564.3,600.0 L567.0,601.0 L566.8,602.7 L563.4,605.0 L560.9,605.0 M567.0,601.0 L569.2,603.6 L573.4,604.1 L573.4,606.1 M566.8,602.7 L569.2,603.6 M584.7,594.5 L583.9,593.7 L584.1,592.7 L585.8,590.7 M589.0,593.5 L588.8,594.8 L588.0,596.0 L589.8,598.5 M592.8,593.9 L592.2,594.9 L592.8,596.6 L592.2,598.0 M595.6,596.0 L594.5,597.8 M573.4,606.1 L569.9,607.1 M572.7,614.2 L574.6,616.1 L574.9,618.5 L574.0,619.5 L574.6,621.0 L573.9,622.4 L573.1,623.4 M573.9,622.4 L575.6,624.4 L575.9,627.3 L577.1,629.0 L575.2,631.2 L575.5,634.3 L573.7,638.6 L573.1,642.8 L572.8,646.5 L572.0,650.7 L571.2,657.2 L571.6,660.9 L569.8,667.1 L570.6,669.8 L575.4,670.8 M575.1,671.5 L575.1,675.1 M577.1,629.0 L579.3,628.1 L582.2,628.0 L582.8,626.0 L583.4,624.9 L587.7,625.2 L588.6,622.9 M582.2,628.0 L584.3,630.3 L587.3,631.8 L588.5,632.6 L587.3,634.7 L590.4,634.8 L592.1,632.6 M588.5,638.6 L587.7,641.7 L587.5,643.7"/><path fill="#ed6b75" stroke="#fff" stroke-width="0.3" stroke-linejoin="round" d="M500.6,525.9 L500.6,524.7 L498.2,523.0 L496.4,520.0 L494.6,518.5 L491.5,519.4 L489.7,517.6 L487.3,517.1 L487.3,498.7 L482.4,497.9 L476.4,496.8 L468.5,495.0 L464.2,496.6 L460.6,498.3 L456.4,501.1 L459.4,502.9 L460.0,504.2 L462.4,505.4 L459.4,505.2 L454.5,507.0 L457.0,509.2 L460.6,509.2 L463.0,509.6 L463.0,511.1 L459.4,512.1 L457.6,514.0 L457.0,514.9 L458.2,516.7 L459.4,518.0 L461.8,517.8 L461.8,520.1 L464.2,519.8 L467.3,520.0 L467.3,522.1 L464.2,524.7 L461.2,526.0 L458.4,527.2 L460.6,526.9 L464.2,525.7 L466.7,524.2 L469.1,522.4 L471.5,520.9 L472.1,518.9 L473.9,516.2 L476.4,515.4 L474.6,518.9 L477.6,517.8 L478.8,516.2 L481.2,516.2 L483.7,517.6 L486.7,517.6 L489.1,518.2 L491.5,519.8 L493.4,520.7 L494.6,523.0 L496.4,525.5 L499.4,526.7Z M470.9,522.1 L473.3,520.7 L473.9,522.1 L471.8,523.3Z M509.1,536.1 L507.1,537.1 L507.9,540.3 L507.7,545.2 L507.6,549.0 L509.7,552.7 L510.5,554.4 L512.0,557.3 L514.6,557.9 L516.2,560.0 L519.2,559.7 L523.7,561.6 L527.1,561.6 L527.1,560.9 L529.1,560.9 L531.6,563.9 L533.4,564.6 L534.0,563.6 L535.8,564.0 L537.6,566.6 L540.4,568.7 L540.3,566.2 L543.1,564.2 L544.9,563.7 L547.3,564.2 L550.1,564.5 L549.8,563.1 L551.6,562.9 L554.0,562.9 L556.1,563.3 L557.7,564.6 L558.0,566.2 L559.1,568.6 L560.1,569.6 L560.9,569.5 L561.3,567.3 L560.6,565.3 L559.7,563.3 L560.1,560.6 L561.9,559.3 L564.0,557.9 L566.5,556.3 L566.1,553.8 L566.8,552.4 L567.4,551.7 L568.6,549.6 L568.6,548.7 L571.0,548.1 L573.4,547.3 L573.4,546.7 L572.5,545.9 L573.2,544.3 L575.2,543.3 L577.1,542.5 L577.1,542.2 L576.1,539.2 L574.6,538.6 L572.8,541.5 L571.6,542.2 L567.7,542.2 L565.5,543.7 L562.5,544.8 L562.5,545.5 L558.3,546.7 L557.7,546.2 L558.3,544.5 L558.5,541.8 L556.4,540.3 L555.6,539.5 L551.6,537.4 L549.8,537.7 L543.1,536.1 L509.1,536.1Z M809.3,549.6 L806.4,551.0 L805.9,551.1 L805.8,548.8 L806.1,548.3 L803.3,549.8 L801.3,551.0 L802.1,552.7 L802.7,553.4 L804.9,552.7 L807.0,553.2 L805.1,554.5 L804.3,555.2 L803.1,556.6 L804.5,558.6 L806.1,560.9 L806.1,562.1 L804.5,562.9 L806.4,563.5 L805.8,565.6 L803.9,567.9 L803.5,568.8 L801.5,570.5 L799.9,572.1 L796.9,573.3 L795.4,573.7 L792.4,574.7 L792.2,575.9 L791.6,574.3 L789.7,574.2 L789.4,574.3 L787.8,573.7 L786.1,572.1 L783.3,573.1 L782.2,573.2 L781.4,574.7 L779.7,574.1 L778.5,573.5 L778.3,571.2 L776.8,570.5 L778.1,568.7 L778.0,566.5 L776.5,565.7 L774.8,564.2 L773.0,564.4 L770.0,566.2 L769.4,566.0 L766.3,566.6 L765.2,566.1 L762.7,566.0 L760.3,564.8 L757.2,562.9 L756.6,563.1 L754.2,561.7 L754.0,560.0 L754.8,559.3 L754.0,557.5 L753.0,555.9 L750.6,555.5 L750.4,554.5 L749.1,553.5 L748.1,551.7 L747.8,550.3 L750.6,549.0 L753.0,547.8 L755.7,546.5 L755.8,545.2 L756.0,542.2 L758.4,541.8 L759.0,538.9 L762.1,539.1 L762.3,537.1 L764.1,535.8 L765.7,537.2 L768.1,538.4 L768.8,541.5 L771.8,542.2 L774.2,543.4 L775.4,545.5 L779.7,545.8 L782.1,546.4 L785.7,547.1 L788.8,546.1 L791.8,545.7 L794.2,544.2 L794.0,542.2 L796.2,542.5 L799.1,540.3 L801.5,539.7 L803.7,539.7 L801.3,538.0 L798.8,538.0 L799.9,534.9 L801.3,535.3 L803.1,534.4 L803.9,531.8 L804.8,530.4 L805.8,529.2 L808.2,528.9 L810.6,529.7 L812.4,532.1 L813.0,534.5 L815.5,535.6 L816.9,538.0 L819.7,537.5 L821.9,537.1 L820.9,538.9 L819.8,542.1 L818.3,542.2 L817.5,544.5 L816.8,545.9 L815.8,545.4 L813.8,546.7 L812.2,547.1 L810.6,548.4Z M790.2,577.3 L791.2,578.5 L792.4,577.8 L793.0,576.6 L792.2,576.1 L790.8,576.5Z"/><path fill="#43bee9" stroke="#fff" stroke-width="0.3" stroke-linejoin="round" d="M766.3,574.0 L763.9,574.3 L763.7,575.6 L762.4,576.5 L759.4,579.1 L758.1,580.6 L755.8,581.9 L755.7,584.8 L755.2,586.8 L755.3,588.3 L754.2,589.5 L753.2,590.1 L752.4,591.0 L751.2,589.9 L750.8,588.7 L749.7,586.4 L749.1,585.1 L748.1,582.7 L747.9,581.9 L747.2,580.0 L746.7,577.5 L746.6,575.0 L746.3,573.7 L745.7,575.0 L744.5,575.4 L742.1,573.3 L743.3,572.4 L741.7,571.8 L740.8,571.4 L744.5,570.4 L743.5,567.9 L742.7,567.3 L743.9,566.0 L746.3,564.6 L746.9,563.5 L748.7,562.0 L748.7,561.2 L749.7,560.2 L748.1,559.3 L747.9,557.3 L748.7,555.7 L750.6,555.5 L753.0,555.9 L754.0,557.5 L754.8,559.3 L754.0,560.0 L754.2,561.7 L756.6,563.1 L755.5,564.9 L757.8,566.1 L759.4,566.9 L761.2,567.3 L763.9,568.1 L765.2,568.1 L765.2,566.1 L766.2,566.9 L766.3,567.5 L770.0,567.4 L770.0,566.2 L773.0,564.4 L774.8,564.2 L776.5,565.7 L776.0,567.0 L773.8,568.6 L773.1,569.9 L772.4,571.3 L771.4,573.5 L770.7,574.0 L770.3,573.7 L770.3,571.8 L769.0,571.8 L769.1,572.4 L769.5,570.9 L770.3,570.1 L770.2,569.7 L767.3,569.5 L767.3,568.6 L765.7,568.1 L765.2,568.8 L766.2,569.6 L765.4,570.5 L766.0,571.0 L766.3,573.1Z M701.9,555.3 L702.3,554.4 L700.3,554.1 L697.8,555.1 L695.6,554.1 L693.7,554.2 L692.3,554.2 L691.5,553.8 L690.3,552.0 L690.7,550.6 L690.1,549.6 L691.7,549.0 L693.5,549.0 L693.5,548.1 L696.6,547.8 L699.0,546.7 L700.8,546.7 L702.6,547.7 L705.1,548.3 L706.9,548.1 L708.7,547.4 L711.1,548.0 L711.4,549.3 L712.7,550.0 L712.0,551.8 L712.7,553.5 L709.8,553.7 L706.9,554.1 L704.5,554.1 L702.9,554.1 L702.3,555.3Z M692.3,546.7 L692.4,547.4 L693.5,547.8 L692.3,548.1 L691.1,548.7 L690.1,549.3 L689.9,548.4 L690.4,547.7 L690.3,547.1 L691.7,546.7Z M796.3,628.0 L797.3,627.7 L800.1,626.2 L802.7,625.4 L805.8,624.2 L806.7,622.9 L807.3,621.0 L808.3,622.0 L809.4,620.4 L810.6,618.5 L812.2,617.9 L813.6,618.9 L815.5,619.0 L815.8,617.3 L817.0,615.9 L819.1,615.5 L819.2,614.6 L822.1,615.5 L824.3,615.5 L823.3,617.3 L822.7,619.2 L824.6,620.4 L827.0,621.7 L829.2,622.3 L830.0,619.8 L830.3,616.7 L830.9,614.2 L832.4,616.1 L832.8,618.3 L834.6,619.2 L834.9,621.0 L835.8,623.9 L838.5,625.7 L839.5,627.1 L841.3,629.5 L843.4,631.8 L844.2,634.4 L844.7,636.6 L844.0,639.7 L842.8,642.0 L841.8,643.7 L840.6,646.5 L840.3,648.6 L837.9,649.1 L836.0,650.8 L834.3,649.7 L832.4,650.4 L829.4,649.5 L827.8,647.9 L827.6,646.2 L826.4,645.9 L826.4,644.8 L825.8,642.8 L825.5,641.8 L824.6,643.7 L823.3,645.1 L822.7,644.7 L821.2,642.4 L820.3,641.1 L817.3,640.3 L814.9,640.6 L811.2,641.4 L808.8,642.4 L808.2,643.6 L803.9,643.7 L801.5,645.1 L799.1,644.8 L798.0,644.1 L797.9,643.0 L798.7,641.0 L797.9,639.0 L797.4,636.8 L796.3,633.9 L796.1,631.2Z M833.9,653.1 L836.1,653.7 L838.3,653.4 L838.3,655.3 L837.3,656.7 L835.7,657.3 L834.5,655.7Z"/><path fill="#52b4df" stroke="#fff" stroke-width="0.3" stroke-linejoin="round" d="M595.9,595.6 L597.7,598.6 L597.7,600.8 L600.1,601.7 L603.8,602.7 L604.6,604.1 L608.0,604.3 L611.6,605.3 L613.5,606.7 L615.6,607.5 L616.1,609.9 L614.7,613.6 L613.2,614.8 L611.6,616.7 L611.0,619.2 L610.8,622.7 L609.8,625.4 L608.6,628.0 L607.4,629.2 L604.4,629.5 L602.2,630.5 L599.8,632.8 L599.4,635.0 L598.1,637.4 L596.5,639.7 L595.0,641.3 L593.6,643.3 L593.4,641.7 L590.9,639.4 L588.5,638.6 L590.7,636.1 L593.1,634.7 L592.1,632.6 L592.5,630.5 L591.0,630.3 L590.8,628.3 L588.2,628.1 L588.0,625.7 L588.6,622.9 L587.7,622.3 L585.6,620.8 L585.3,617.7 L583.1,616.9 L581.9,616.2 L579.5,615.2 L579.1,613.0 L577.6,612.9 L575.1,614.4 L572.7,614.2 L572.7,612.5 L570.8,613.0 L569.8,612.1 L568.6,609.9 L569.8,608.1 L569.9,607.1 L573.4,606.1 L574.2,602.3 L573.4,600.8 L573.7,598.8 L577.1,598.5 L577.2,599.4 L578.9,599.9 L580.7,598.8 L580.7,596.0 L584.3,595.4 L584.7,594.5 L585.6,594.8 L585.8,595.5 L585.8,598.4 L587.4,599.3 L589.8,598.5 L592.2,598.0 L594.7,598.0 L595.6,596.0Z"/><path fill="#f8ac3b" stroke="#fff" stroke-width="0.3" stroke-linejoin="round" d="M651.4,534.4 L654.1,534.2 L654.7,533.4 L656.9,533.4 L659.9,532.8 L659.2,532.1 L660.4,530.4 L658.8,529.9 L658.5,528.7 L656.9,527.0 L656.4,525.4 L654.7,524.7 L655.2,524.0 L655.9,522.6 L656.2,521.9 L654.1,521.7 L653.3,522.1 L654.6,520.1 L652.3,520.1 L651.7,521.6 L651.3,523.0 L650.8,523.6 L651.7,524.7 L651.4,525.9 L652.4,525.4 L652.4,526.9 L654.1,526.5 L654.3,527.7 L654.8,528.5 L654.6,529.2 L652.8,529.2 L653.1,530.0 L653.4,530.8 L652.0,531.5 L653.3,532.0 L654.7,532.3 L654.7,532.6 L653.3,532.6 L652.2,533.9Z M650.8,527.9 L651.7,527.4 L651.3,526.9 L651.0,526.0 L649.5,526.2 L648.6,527.2 L649.5,527.7Z"/><path fill="#6fa8cc" stroke="#fff" stroke-width="0.3" stroke-linejoin="round" d="M487.3,498.7 L492.1,500.0 L495.8,498.9 L500.6,497.6 L503.1,497.2 L506.7,498.9 L511.6,498.3 L516.4,500.2 L520.0,501.7 L524.9,502.3 L527.3,501.5 L529.8,500.4 L534.6,502.5 L539.5,502.5 L541.9,501.5 L542.5,498.9 L541.9,495.7 L543.7,493.4 L546.1,496.8 L549.2,500.0 L551.6,501.1 L554.0,503.2 L555.2,500.0 L555.2,498.3 L558.9,498.5 L559.5,501.1 L558.9,504.2 L556.4,505.6 L554.0,505.8 L552.8,507.6 L551.6,509.8 L548.6,511.1 L545.5,514.0 L543.7,516.7 L543.5,519.4 L545.5,520.0 L546.1,523.0 L549.2,523.0 L551.6,523.8 L555.2,525.9 L558.5,526.2 L558.6,529.7 L560.1,531.3 L561.9,532.6 L562.5,531.3 L563.1,528.9 L561.9,526.9 L564.3,524.7 L565.5,522.1 L563.7,520.0 L563.7,516.7 L564.3,513.2 L567.4,513.6 L571.0,514.5 L573.4,515.8 L574.0,519.4 L575.9,520.7 L578.3,519.8 L580.1,517.1 L582.5,521.2 L584.3,524.7 L585.6,526.7 L588.6,527.7 L590.4,530.5 L590.8,532.1 L587.4,532.6 L585.6,534.2 L580.7,534.2 L577.7,534.2 L574.6,536.9 L572.2,539.5 L575.9,536.9 L579.5,535.8 L580.3,536.9 L579.5,538.4 L580.1,540.3 L583.1,541.0 L585.6,540.0 L585.6,541.0 L584.3,541.8 L581.3,543.0 L578.5,544.3 L578.3,543.0 L580.1,541.5 L577.1,542.2 L577.1,542.2 L576.1,539.2 L574.6,538.6 L572.8,541.5 L571.6,542.2 L567.7,542.2 L565.5,543.7 L562.5,544.8 L562.5,545.5 L558.3,546.7 L557.7,546.2 L558.3,544.5 L558.5,541.8 L556.4,540.3 L555.6,539.5 L551.6,537.4 L549.8,537.7 L543.1,536.1 L509.1,536.1 L507.3,534.1 L503.7,532.1 L503.1,530.5 L500.6,527.6 L500.6,525.9 L500.6,524.7 L498.2,523.0 L496.4,520.0 L494.6,518.5 L491.5,519.4 L489.7,517.6 L487.3,517.1Z M579.5,514.3 L574.6,512.8 L569.8,510.5 L563.7,509.4 L564.3,507.4 L568.8,507.2 L569.8,503.2 L566.1,500.0 L562.5,498.3 L555.8,497.9 L550.4,496.1 L549.2,492.1 L550.4,489.5 L555.2,489.3 L560.1,489.7 L561.3,492.5 L566.1,491.8 L569.8,494.6 L574.6,497.2 L577.1,500.0 L581.9,503.6 L583.7,505.0 L581.3,508.2 L578.3,506.2 L576.5,507.2 L580.7,511.5Z M514.0,494.6 L515.8,496.8 L521.3,497.2 L516.4,498.3 L520.0,501.1 L526.1,500.6 L531.0,500.0 L535.2,498.5 L534.6,496.8 L531.6,495.2 L531.0,491.8 L528.5,490.4 L524.9,491.4 L520.0,490.7 L518.8,490.7 L515.8,492.5Z M506.1,493.4 L509.1,495.4 L511.6,494.6 L514.6,491.8 L517.0,489.5 L515.8,488.1 L511.6,487.6 L507.3,488.1 L507.9,490.4Z M516.4,485.7 L520.0,487.1 L524.9,486.6 L529.8,486.4 L530.4,484.2 L526.1,482.2 L521.3,483.2 L517.0,482.9Z M509.7,483.4 L514.0,484.4 L517.6,481.7 L515.2,480.1 L511.6,481.4Z M534.6,491.6 L537.0,494.6 L540.1,494.1 L540.7,491.1 L539.5,488.8 L535.8,489.3Z M542.5,491.6 L543.1,493.2 L546.7,493.4 L548.6,490.7 L548.0,488.6 L543.1,488.8Z M561.3,487.4 L555.2,487.6 L548.0,487.1 L546.1,485.2 L543.1,482.7 L549.2,483.2 L555.2,483.9 L560.1,484.4 L561.9,485.7Z M532.2,485.2 L537.0,486.4 L540.1,485.2 L539.5,482.4 L535.8,482.2 L532.8,483.4Z M549.8,482.4 L556.4,482.7 L560.7,483.2 L563.7,481.9 L564.3,479.4 L567.4,477.5 L566.1,475.6 L572.2,474.3 L575.9,471.5 L580.7,469.2 L583.1,466.6 L579.5,465.1 L573.4,464.5 L564.9,464.8 L555.2,466.9 L549.2,468.6 L552.8,472.1 L554.0,474.8 L551.6,478.3 L551.6,480.1Z M542.5,474.8 L546.7,478.3 L550.6,477.3 L551.0,474.8 L548.0,470.1 L544.3,469.8 L541.9,472.6Z M532.2,478.1 L538.2,479.4 L540.7,476.7 L537.0,474.0 L532.2,475.4Z M552.2,509.2 L554.6,511.7 L558.3,510.7 L561.3,510.5 L559.5,508.6 L556.4,506.4 L554.0,506.2 L554.6,507.8Z M586.4,538.1 L590.7,539.4 L594.1,539.8 L594.4,538.3 L593.8,536.7 L592.8,535.5 L590.4,534.9 L589.8,533.7 L591.0,532.0 L589.2,533.3 L587.7,535.5Z M502.7,533.3 L505.5,535.6 L508.5,537.1 L506.7,534.5 L503.7,533.1Z M580.1,534.7 L583.1,535.8 L583.4,535.5 L581.3,534.7Z M580.3,539.5 L583.1,540.6 L582.9,540.0Z"/><path fill="#fff" d="M546.7,539.7 L549.2,539.7 L551.6,539.2 L553.4,540.0 L555.6,540.0 L555.2,538.0 L551.6,536.7 L549.8,537.7Z M551.8,546.7 L553.4,547.1 L553.7,544.5 L555.0,541.5 L554.0,540.7 L552.2,542.2 L551.8,544.5Z M555.8,540.9 L557.0,541.0 L557.3,543.7 L558.3,545.1 L559.2,544.5 L559.7,542.5 L561.3,542.8 L561.3,541.5 L559.5,540.7 L556.4,540.4Z M557.3,547.0 L560.1,547.1 L562.5,545.7 L561.9,545.4 L558.9,545.9 L557.3,546.7Z M561.5,544.8 L564.9,544.8 L565.8,543.7 L564.3,543.7 L562.1,544.0Z M716.0,541.2 L716.6,540.7 L720.2,539.2 L722.7,539.5 L722.7,541.9 L720.2,543.0 L719.4,542.8 L722.0,545.9 L722.7,547.4 L722.4,549.6 L723.5,551.0 L723.9,553.4 L721.4,554.2 L720.2,554.2 L717.8,553.1 L717.7,551.8 L718.4,549.1 L717.8,547.4 L716.2,545.2 L715.4,543.0Z"/><circle cx="673.5" cy="546.5" r="3.1" fill="#d9534f" stroke="#fff" stroke-width="0.5"/><circle cx="747.5" cy="596.3" r="3.1" fill="#d9534f" stroke="#fff" stroke-width="0.5"/><circle cx="888.6" cy="511.1" r="0.8" fill="#ed6b75"/><circle cx="469.7" cy="576.7" r="0.7" fill="#ed6b75"/></svg><div class="abs" style="left:163.8px;top:695.5px;width:1017.20px;height:31.50px;background:#f8f8f8;"></div><div class="t" style="left:182.69px;top:708.65px;font-size:7.5px;color:#444;letter-spacing:-0.396px;font-weight:bold;">COUNTRY</div><div class="t" style="left:412.70px;top:708.65px;font-size:7.5px;color:#444;letter-spacing:-0.085px;font-weight:bold;">VISITS</div><div class="t" style="left:529.85px;top:708.65px;font-size:7.5px;color:#444;letter-spacing:-0.195px;font-weight:bold;">USER ACTIVITY</div><div class="t" style="left:747.79px;top:708.65px;font-size:7.5px;color:#444;letter-spacing:-0.187px;font-weight:bold;">ONLINE</div><div class="t" style="left:877.00px;top:708.65px;font-size:7.5px;color:#444;letter-spacing:-0.388px;font-weight:bold;">DEMOGRAPHIC</div><div class="t" style="left:182.31px;top:740.38px;font-size:9px;color:#444;letter-spacing:-0.521px;">USA</div><div class="t" style="left:411.80px;top:740.38px;font-size:9px;color:#444;letter-spacing:-0.171px;">4,583</div><div class="t" style="left:746.15px;top:740.38px;font-size:9px;color:#444;letter-spacing:0.603px;">235</div><svg class="abs" style="left:0;top:0" width="1200" height="750"><rect x="529.30" y="743.00" width="1.9" height="1.70" fill="#43bee9"/><rect x="531.70" y="740.00" width="1.9" height="4.70" fill="#43bee9"/><rect x="534.10" y="742.70" width="1.9" height="2.00" fill="#43bee9"/><rect x="536.50" y="743.70" width="1.9" height="1.00" fill="#43bee9"/><rect x="538.90" y="744.70" width="1.9" height="2.80" fill="#ed6b75"/><rect x="541.30" y="744.70" width="1.9" height="3.70" fill="#ed6b75"/><rect x="543.70" y="744.70" width="1.9" height="4.80" fill="#ed6b75"/><rect x="546.10" y="744.70" width="1.9" height="2.80" fill="#ed6b75"/><rect x="548.50" y="744.70" width="1.9" height="1.70" fill="#ed6b75"/><rect x="550.90" y="744.70" width="1.9" height="0.70" fill="#ed6b75"/><rect x="553.30" y="744.30" width="1.9" height="0.40" fill="#43bee9"/><rect x="555.70" y="743.70" width="1.9" height="1.00" fill="#43bee9"/><rect x="558.10" y="740.90" width="1.9" height="3.80" fill="#43bee9"/><rect x="560.50" y="739.20" width="1.9" height="5.50" fill="#43bee9"/><rect x="562.90" y="742.00" width="1.9" height="2.70" fill="#43bee9"/><rect x="565.30" y="743.00" width="1.9" height="1.70" fill="#43bee9"/><rect x="567.70" y="739.50" width="1.9" height="5.20" fill="#43bee9"/></svg><svg class="abs" style="left:875.6px;top:737.8px" width="13" height="13" viewBox="-6.5 -6.5 13 13"><circle r="6.3" fill="#43bee9"/><path d="M0,0 L0,-6.3 A6.3,6.3 0 0 1 6.3,0 Z" fill="#f8ac3b"/><path d="M0,0 L6.3,0 A6.3,6.3 0 0 1 0,6.3 Z" fill="#ed6b75"/></svg><div class="abs" style="left:1093px;top:735px;width:18.5px;height:18.5px;background:#fff;border:1px solid #f0f0f0;border-radius:2px"></div><svg class="ic" style="left:1097.80px;top:740.30px;width:9.00px;height:9.00px;fill:#555;" viewBox="0 0 576 512" preserveAspectRatio="xMidYMid meet"><path d="M509.4 98.6c7.6-7.6 20.3-5.7 24.1 4.3 6.8 17.7 10.5 37 10.5 57.1 0 88.4-71.6 160-160 160-17.5 0-34.4-2.8-50.2-8L146.9 498.9c-28.1 28.1-73.7 28.1-101.8 0s-28.1-73.7 0-101.8L232 210.2c-5.2-15.8-8-32.6-8-50.2C224 71.6 295.6 0 384 0c20.1 0 39.4 3.7 57.1 10.5 10 3.8 11.8 16.5 4.3 24.1l-88.7 88.7c-3 3-4.7 7.1-4.7 11.3V176c0 8.8 7.2 16 16 16h41.4c4.2 0 8.3-1.7 11.3-4.7z"/></svg><div class="abs" style="left:1162px;top:128px;width:38.00px;height:37.50px;background:#222;"></div><svg class="abs" style="left:1174px;top:139.6px" width="14" height="14" viewBox="0 0 14 14" fill="none" stroke="#e8e8e8" stroke-width="1.1"><g transform="rotate(-44 7 7)"><ellipse cx="8.4" cy="7" rx="4.6" ry="1.7"/><circle cx="2.3" cy="7" r="1.7"/></g></svg><div class="abs" style="left:1156px;top:348.2px;width:25.00px;height:25.00px;background:rgba(237,107,117,.85);border-radius:2.5px"></div><svg class="ic" style="left:1164.00px;top:356.80px;width:9.50px;height:8.00px;fill:#fff;" viewBox="0 0 576 512" preserveAspectRatio="xMidYMid meet"><path d="M76.2 258.7c6.1-15.2 4-32.6-5.6-45.9C56.1 192.7 48 169.1 48 144c0-66.8 60.5-128 144-128s144 61.2 144 128-60.5 128-144 128c-15.9 0-31.1-2.3-45.3-6.5-10.3-3.1-21.4-2.5-31.4 1.5l-50.4 20.2 11.4-28.5zM0 144c0 35.8 11.6 69.1 31.7 96.8L1.9 315.2c-1.3 3.2-1.9 6.6-1.9 10C0 340 12 352 26.8 352c3.4 0 6.8-.7 10-1.9l96.3-38.5c18.6 5.5 38.4 8.4 58.9 8.4 106 0 192-78.8 192-176S298-32 192-32 0 46.8 0 144m384 368c20.6 0 40.3-3 58.9-8.4l96.3 38.5c3.2 1.3 6.6 1.9 10 1.9 14.8 0 26.8-12 26.8-26.8 0-3.4-.7-6.8-1.9-10l-29.7-74.4c20-27.8 31.7-61.1 31.7-96.8 0-82.4-61.7-151.5-145-170.7-1.6 16.3-5.1 31.9-10.1 46.9 63.9 14.8 107.2 67.3 107.2 123.9 0 25.1-8.1 48.7-22.6 68.8-9.6 13.3-11.7 30.6-5.6 45.9l11.4 28.5-50.4-20.2c-10-4-21.1-4.5-31.4-1.5-14.2 4.2-29.4 6.5-45.3 6.5-72.2 0-127.1-45.7-140.7-101.2-15.6 3.2-31.7 5-48.1 5.2 16.4 81.9 94.7 144 188.8 144z"/></svg><div class="abs" style="left:1156px;top:379.8px;width:25.00px;height:25.20px;background:rgba(66,189,232,.85);border-radius:2.5px"></div><svg class="ic" style="left:1164.00px;top:388.60px;width:9.20px;height:7.80px;fill:#fff;" viewBox="0 0 512 512" preserveAspectRatio="xMidYMid meet"><path d="M48 64C21.5 64 0 85.5 0 112c0 15.1 7.1 29.3 19.2 38.4l208 156a48 48 0 0 0 57.6 0l208-156c12.1-9.1 19.2-23.3 19.2-38.4 0-26.5-21.5-48-48-48zM0 196v188c0 35.3 28.7 64 64 64h384c35.3 0 64-28.7 64-64V196L313.6 344.8c-34.1 25.6-81.1 25.6-115.2 0z"/></svg></div></body></html>
